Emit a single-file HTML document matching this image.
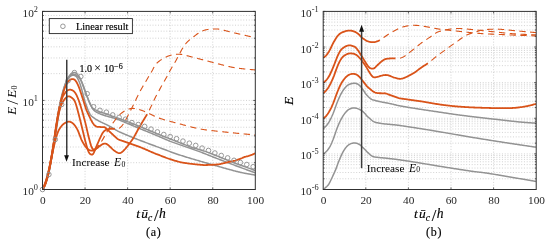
<!DOCTYPE html>
<html><head><meta charset="utf-8"><style>html,body{margin:0;padding:0;background:#fff;}svg{display:block;}</style></head>
<body>
<svg width="550" height="244" viewBox="0 0 550 244">
<defs><clipPath id="clipL"><rect x="42.5" y="11.4" width="212.8" height="178.1"/></clipPath><clipPath id="clipR"><rect x="323.2" y="11.4" width="213.00000000000006" height="178.1"/></clipPath></defs>
<rect width="550" height="244" fill="#fff"/>
<path d="M85.06,11.40V189.50M127.62,11.40V189.50M170.18,11.40V189.50M212.74,11.40V189.50M42.50,162.69H255.30M42.50,147.01H255.30M42.50,135.89H255.30M42.50,127.26H255.30M42.50,120.21H255.30M42.50,114.24H255.30M42.50,109.08H255.30M42.50,104.52H255.30M42.50,100.45H255.30M42.50,73.64H255.30M42.50,57.96H255.30M42.50,46.84H255.30M42.50,38.21H255.30M42.50,31.16H255.30M42.50,25.19H255.30M42.50,20.03H255.30M42.50,15.47H255.30" stroke="#c8c8c8" stroke-width="0.8" stroke-dasharray="1 1.75" fill="none"/>
<path d="M365.80,11.40V189.50M408.40,11.40V189.50M451.00,11.40V189.50M493.60,11.40V189.50M323.20,178.78H536.20M323.20,172.50H536.20M323.20,168.05H536.20M323.20,164.60H536.20M323.20,161.78H536.20M323.20,159.40H536.20M323.20,157.33H536.20M323.20,155.51H536.20M323.20,153.88H536.20M323.20,143.16H536.20M323.20,136.88H536.20M323.20,132.43H536.20M323.20,128.98H536.20M323.20,126.16H536.20M323.20,123.78H536.20M323.20,121.71H536.20M323.20,119.89H536.20M323.20,118.26H536.20M323.20,107.54H536.20M323.20,101.26H536.20M323.20,96.81H536.20M323.20,93.36H536.20M323.20,90.54H536.20M323.20,88.16H536.20M323.20,86.09H536.20M323.20,84.27H536.20M323.20,82.64H536.20M323.20,71.92H536.20M323.20,65.64H536.20M323.20,61.19H536.20M323.20,57.74H536.20M323.20,54.92H536.20M323.20,52.54H536.20M323.20,50.47H536.20M323.20,48.65H536.20M323.20,47.02H536.20M323.20,36.30H536.20M323.20,30.02H536.20M323.20,25.57H536.20M323.20,22.12H536.20M323.20,19.30H536.20M323.20,16.92H536.20M323.20,14.85H536.20M323.20,13.03H536.20" stroke="#c8c8c8" stroke-width="0.8" stroke-dasharray="1 1.75" fill="none"/>
<polyline points="323.20,128.30 323.91,127.92 324.63,127.42 325.34,126.80 326.06,126.05 326.77,125.19 327.48,124.25 328.20,123.21 328.91,122.07 329.63,120.82 330.34,119.47 331.06,118.05 331.77,116.55 332.48,114.95 333.20,113.25 333.91,111.44 334.63,109.51 335.34,107.51 336.05,105.52 336.77,103.60 337.48,101.78 338.20,100.03 338.91,98.35 339.62,96.74 340.34,95.21 341.05,93.80 341.77,92.52 342.48,91.34 343.19,90.26 343.91,89.27 344.62,88.35 345.34,87.50 346.05,86.73 346.77,86.04 347.48,85.45 348.19,84.95 348.91,84.55 349.62,84.22 350.34,83.94 351.05,83.71 351.76,83.54 352.48,83.41 353.19,83.33 353.91,83.29 354.62,83.30 355.33,83.36 356.05,83.49 356.76,83.69 357.48,84.00 358.19,84.42 358.90,84.96 359.62,85.59 360.33,86.31 361.05,87.10 361.76,87.98 362.48,88.96 363.19,90.01 363.90,91.10 364.62,92.19 365.33,93.22 366.05,94.17 366.76,95.01 367.47,95.81 368.19,96.57 368.90,97.28 369.62,97.94 370.33,98.52 371.04,99.01 371.76,99.40 372.47,99.69 373.19,99.91 373.90,100.12 374.61,100.33 375.33,100.53 376.04,100.72 376.76,100.91 377.47,101.09 378.19,101.26 378.90,101.42 379.61,101.58 380.33,101.73 381.04,101.87 381.76,102.01 382.47,102.14 383.18,102.28 383.90,102.41 384.61,102.55 385.33,102.68 386.04,102.82 386.75,102.95 387.47,103.09 388.18,103.23 388.90,103.37 389.61,103.51 390.32,103.66 391.04,103.81 391.75,103.97 392.47,104.13 393.18,104.30 393.90,104.48 394.61,104.66 395.32,104.84 396.04,105.02 396.75,105.20 397.47,105.37 398.18,105.53 398.89,105.69 399.61,105.83 400.32,105.96 401.04,106.08 401.75,106.21 402.46,106.33 403.18,106.46 403.89,106.58 404.61,106.70 405.32,106.82 406.03,106.95 406.75,107.07 407.46,107.19 408.18,107.30 408.89,107.42 409.61,107.54 410.32,107.66 411.03,107.78 411.75,107.89 412.46,108.01 413.18,108.12 413.89,108.24 414.60,108.35 415.32,108.46 416.03,108.58 416.75,108.69 417.46,108.80 418.17,108.91 418.89,109.03 419.60,109.14 420.32,109.25 421.03,109.36 421.74,109.47 422.46,109.58 423.17,109.69 423.89,109.79 424.60,109.90 425.32,110.01 426.03,110.12 426.74,110.23 427.46,110.33 428.17,110.44 428.89,110.55 429.60,110.65 430.31,110.76 431.03,110.87 431.74,110.97 432.46,111.08 433.17,111.19 433.88,111.29 434.60,111.40 435.31,111.50 436.03,111.61 436.74,111.71 437.46,111.82 438.17,111.92 438.88,112.03 439.60,112.14 440.31,112.24 441.03,112.35 441.74,112.46 442.45,112.56 443.17,112.67 443.88,112.78 444.60,112.89 445.31,112.99 446.02,113.10 446.74,113.21 447.45,113.32 448.17,113.42 448.88,113.53 449.59,113.64 450.31,113.74 451.02,113.85 451.74,113.95 452.45,114.06 453.17,114.16 453.88,114.26 454.59,114.37 455.31,114.47 456.02,114.57 456.74,114.67 457.45,114.77 458.16,114.87 458.88,114.96 459.59,115.06 460.31,115.15 461.02,115.25 461.73,115.34 462.45,115.43 463.16,115.52 463.88,115.61 464.59,115.70 465.30,115.79 466.02,115.87 466.73,115.96 467.45,116.05 468.16,116.14 468.88,116.22 469.59,116.31 470.30,116.40 471.02,116.48 471.73,116.57 472.45,116.65 473.16,116.74 473.87,116.82 474.59,116.91 475.30,116.99 476.02,117.07 476.73,117.16 477.44,117.24 478.16,117.33 478.87,117.41 479.59,117.49 480.30,117.57 481.01,117.66 481.73,117.74 482.44,117.82 483.16,117.90 483.87,117.99 484.59,118.07 485.30,118.15 486.01,118.23 486.73,118.31 487.44,118.40 488.16,118.48 488.87,118.56 489.58,118.64 490.30,118.72 491.01,118.80 491.73,118.88 492.44,118.97 493.15,119.05 493.87,119.13 494.58,119.21 495.30,119.29 496.01,119.37 496.72,119.45 497.44,119.54 498.15,119.62 498.87,119.70 499.58,119.78 500.30,119.86 501.01,119.94 501.72,120.02 502.44,120.11 503.15,120.19 503.87,120.27 504.58,120.35 505.29,120.43 506.01,120.51 506.72,120.59 507.44,120.67 508.15,120.75 508.86,120.83 509.58,120.90 510.29,120.98 511.01,121.06 511.72,121.14 512.43,121.22 513.15,121.29 513.86,121.37 514.58,121.45 515.29,121.52 516.01,121.60 516.72,121.68 517.43,121.75 518.15,121.82 518.86,121.89 519.58,121.96 520.29,122.02 521.00,122.09 521.72,122.15 522.43,122.21 523.15,122.27 523.86,122.33 524.57,122.39 525.29,122.45 526.00,122.50 526.72,122.56 527.43,122.61 528.14,122.67 528.86,122.72 529.57,122.77 530.29,122.82 531.00,122.87 531.72,122.92 532.43,122.97 533.14,123.01 533.86,123.06 534.57,123.11 535.29,123.15 536.00,123.20" fill="none" stroke="#939393" stroke-width="1.5" stroke-linejoin="round" clip-path="url(#clipR)"/>
<polyline points="42.50,187.79 43.21,186.85 43.93,185.59 44.64,184.04 45.35,182.17 46.07,180.03 46.78,177.67 47.49,175.06 48.21,172.21 48.92,169.09 49.63,165.72 50.35,162.17 51.06,158.41 51.77,154.42 52.49,150.17 53.20,145.64 53.91,140.81 54.63,135.83 55.34,130.85 56.06,126.04 56.77,121.50 57.48,117.12 58.20,112.91 58.91,108.89 59.62,105.07 60.34,101.55 61.05,98.34 61.76,95.39 62.48,92.70 63.19,90.21 63.90,87.91 64.62,85.79 65.33,83.86 66.04,82.15 66.76,80.66 67.47,79.41 68.18,78.41 68.90,77.58 69.61,76.89 70.32,76.33 71.04,75.88 71.75,75.56 72.46,75.36 73.18,75.27 73.89,75.30 74.60,75.44 75.32,75.76 76.03,76.28 76.74,77.05 77.46,78.10 78.17,79.44 78.88,81.02 79.60,82.82 80.31,84.80 81.02,86.98 81.74,89.44 82.45,92.08 83.17,94.80 83.88,97.51 84.59,100.11 85.31,102.48 86.02,104.57 86.73,106.57 87.45,108.47 88.16,110.26 88.87,111.89 89.59,113.33 90.30,114.57 91.01,115.56 91.73,116.27 92.44,116.82 93.15,117.35 93.87,117.87 94.58,118.37 95.29,118.85 96.01,119.31 96.72,119.76 97.43,120.18 98.15,120.59 98.86,120.98 99.57,121.36 100.29,121.71 101.00,122.06 101.71,122.40 102.43,122.74 103.14,123.08 103.85,123.42 104.57,123.75 105.28,124.09 105.99,124.43 106.71,124.77 107.42,125.12 108.13,125.47 108.85,125.82 109.56,126.19 110.28,126.56 110.99,126.96 111.70,127.37 112.42,127.80 113.13,128.25 113.84,128.70 114.56,129.15 115.27,129.60 115.98,130.04 116.70,130.47 117.41,130.88 118.12,131.26 118.84,131.61 119.55,131.94 120.26,132.25 120.98,132.56 121.69,132.88 122.40,133.19 123.12,133.49 123.83,133.80 124.54,134.10 125.26,134.41 125.97,134.71 126.68,135.01 127.40,135.31 128.11,135.60 128.82,135.90 129.54,136.19 130.25,136.48 130.96,136.77 131.68,137.06 132.39,137.35 133.10,137.63 133.82,137.92 134.53,138.20 135.25,138.49 135.96,138.77 136.67,139.05 137.39,139.33 138.10,139.61 138.81,139.88 139.53,140.16 140.24,140.44 140.95,140.71 141.67,140.98 142.38,141.26 143.09,141.53 143.81,141.80 144.52,142.07 145.23,142.34 145.95,142.61 146.66,142.88 147.37,143.15 148.09,143.41 148.80,143.68 149.51,143.95 150.23,144.21 150.94,144.48 151.65,144.74 152.37,145.01 153.08,145.27 153.79,145.54 154.51,145.80 155.22,146.06 155.93,146.33 156.65,146.59 157.36,146.86 158.07,147.12 158.79,147.39 159.50,147.65 160.21,147.92 160.93,148.19 161.64,148.45 162.36,148.72 163.07,148.99 163.78,149.26 164.50,149.53 165.21,149.80 165.92,150.07 166.64,150.33 167.35,150.60 168.06,150.87 168.78,151.13 169.49,151.40 170.20,151.66 170.92,151.92 171.63,152.18 172.34,152.44 173.06,152.70 173.77,152.96 174.48,153.21 175.20,153.46 175.91,153.71 176.62,153.96 177.34,154.21 178.05,154.45 178.76,154.69 179.48,154.93 180.19,155.16 180.90,155.39 181.62,155.62 182.33,155.84 183.04,156.07 183.76,156.29 184.47,156.51 185.18,156.73 185.90,156.95 186.61,157.17 187.32,157.39 188.04,157.60 188.75,157.82 189.47,158.03 190.18,158.25 190.89,158.46 191.61,158.67 192.32,158.89 193.03,159.10 193.75,159.31 194.46,159.52 195.17,159.73 195.89,159.94 196.60,160.15 197.31,160.36 198.03,160.57 198.74,160.77 199.45,160.98 200.17,161.19 200.88,161.39 201.59,161.60 202.31,161.80 203.02,162.01 203.73,162.21 204.45,162.42 205.16,162.62 205.87,162.83 206.59,163.03 207.30,163.24 208.01,163.44 208.73,163.64 209.44,163.85 210.15,164.05 210.87,164.25 211.58,164.46 212.29,164.66 213.01,164.86 213.72,165.07 214.44,165.27 215.15,165.48 215.86,165.68 216.58,165.88 217.29,166.09 218.00,166.29 218.72,166.49 219.43,166.70 220.14,166.90 220.86,167.10 221.57,167.31 222.28,167.51 223.00,167.71 223.71,167.91 224.42,168.11 225.14,168.31 225.85,168.51 226.56,168.71 227.28,168.91 227.99,169.11 228.70,169.31 229.42,169.50 230.13,169.70 230.84,169.89 231.56,170.09 232.27,170.28 232.98,170.47 233.70,170.66 234.41,170.85 235.12,171.04 235.84,171.23 236.55,171.41 237.26,171.59 237.98,171.77 238.69,171.94 239.40,172.10 240.12,172.26 240.83,172.42 241.55,172.58 242.26,172.73 242.97,172.88 243.69,173.02 244.40,173.16 245.11,173.30 245.83,173.44 246.54,173.58 247.25,173.71 247.97,173.84 248.68,173.96 249.39,174.09 250.11,174.21 250.82,174.34 251.53,174.46 252.25,174.58 252.96,174.69 253.67,174.81 254.39,174.93 255.10,175.04" fill="none" stroke="#939393" stroke-width="1.5" stroke-linejoin="round" clip-path="url(#clipL)"/>
<polyline points="323.20,153.50 323.91,153.24 324.63,152.85 325.34,152.35 326.06,151.74 326.77,151.04 327.48,150.24 328.20,149.33 328.91,148.29 329.63,147.11 330.34,145.78 331.06,144.33 331.77,142.76 332.48,141.08 333.20,139.29 333.91,137.38 334.63,135.34 335.34,133.22 336.05,131.12 336.77,129.12 337.48,127.26 338.20,125.49 338.91,123.81 339.62,122.21 340.34,120.72 341.05,119.32 341.77,118.02 342.48,116.81 343.19,115.68 343.91,114.62 344.62,113.63 345.34,112.71 346.05,111.87 346.77,111.11 347.48,110.45 348.19,109.89 348.91,109.44 349.62,109.06 350.34,108.74 351.05,108.47 351.76,108.25 352.48,108.09 353.19,108.00 353.91,107.97 354.62,108.00 355.33,108.09 356.05,108.22 356.76,108.39 357.48,108.61 358.19,108.87 358.90,109.16 359.62,109.48 360.33,109.84 361.05,110.24 361.76,110.71 362.48,111.24 363.19,111.86 363.90,112.56 364.62,113.32 365.33,114.10 366.05,114.90 366.76,115.68 367.47,116.43 368.19,117.11 368.90,117.74 369.62,118.38 370.33,119.01 371.04,119.63 371.76,120.22 372.47,120.77 373.19,121.27 373.90,121.70 374.61,122.06 375.33,122.32 376.04,122.51 376.76,122.67 377.47,122.82 378.19,122.96 378.90,123.09 379.61,123.22 380.33,123.33 381.04,123.43 381.76,123.53 382.47,123.63 383.18,123.71 383.90,123.80 384.61,123.88 385.33,123.96 386.04,124.03 386.75,124.10 387.47,124.17 388.18,124.24 388.90,124.31 389.61,124.37 390.32,124.44 391.04,124.50 391.75,124.57 392.47,124.64 393.18,124.70 393.90,124.77 394.61,124.84 395.32,124.92 396.04,125.00 396.75,125.08 397.47,125.16 398.18,125.25 398.89,125.34 399.61,125.44 400.32,125.55 401.04,125.65 401.75,125.76 402.46,125.87 403.18,125.97 403.89,126.08 404.61,126.19 405.32,126.29 406.03,126.40 406.75,126.51 407.46,126.62 408.18,126.72 408.89,126.83 409.61,126.94 410.32,127.05 411.03,127.16 411.75,127.27 412.46,127.38 413.18,127.49 413.89,127.60 414.60,127.71 415.32,127.82 416.03,127.93 416.75,128.04 417.46,128.15 418.17,128.27 418.89,128.38 419.60,128.49 420.32,128.60 421.03,128.72 421.74,128.83 422.46,128.95 423.17,129.06 423.89,129.17 424.60,129.29 425.32,129.40 426.03,129.52 426.74,129.63 427.46,129.75 428.17,129.87 428.89,129.98 429.60,130.10 430.31,130.22 431.03,130.33 431.74,130.45 432.46,130.57 433.17,130.69 433.88,130.81 434.60,130.93 435.31,131.05 436.03,131.17 436.74,131.29 437.46,131.41 438.17,131.53 438.88,131.65 439.60,131.77 440.31,131.89 441.03,132.02 441.74,132.14 442.45,132.26 443.17,132.38 443.88,132.51 444.60,132.63 445.31,132.75 446.02,132.88 446.74,133.00 447.45,133.13 448.17,133.25 448.88,133.37 449.59,133.50 450.31,133.62 451.02,133.75 451.74,133.87 452.45,134.00 453.17,134.12 453.88,134.24 454.59,134.37 455.31,134.49 456.02,134.62 456.74,134.74 457.45,134.86 458.16,134.99 458.88,135.11 459.59,135.24 460.31,135.36 461.02,135.48 461.73,135.60 462.45,135.73 463.16,135.85 463.88,135.97 464.59,136.09 465.30,136.21 466.02,136.33 466.73,136.45 467.45,136.57 468.16,136.69 468.88,136.81 469.59,136.93 470.30,137.05 471.02,137.17 471.73,137.29 472.45,137.40 473.16,137.52 473.87,137.64 474.59,137.76 475.30,137.87 476.02,137.99 476.73,138.11 477.44,138.22 478.16,138.34 478.87,138.46 479.59,138.57 480.30,138.69 481.01,138.80 481.73,138.92 482.44,139.04 483.16,139.15 483.87,139.27 484.59,139.38 485.30,139.49 486.01,139.61 486.73,139.72 487.44,139.84 488.16,139.95 488.87,140.07 489.58,140.18 490.30,140.29 491.01,140.40 491.73,140.52 492.44,140.63 493.15,140.74 493.87,140.85 494.58,140.97 495.30,141.08 496.01,141.19 496.72,141.30 497.44,141.41 498.15,141.52 498.87,141.63 499.58,141.75 500.30,141.86 501.01,141.97 501.72,142.08 502.44,142.19 503.15,142.30 503.87,142.41 504.58,142.52 505.29,142.63 506.01,142.73 506.72,142.84 507.44,142.95 508.15,143.06 508.86,143.17 509.58,143.28 510.29,143.39 511.01,143.50 511.72,143.60 512.43,143.71 513.15,143.82 513.86,143.93 514.58,144.04 515.29,144.14 516.01,144.25 516.72,144.36 517.43,144.47 518.15,144.57 518.86,144.68 519.58,144.79 520.29,144.89 521.00,145.00 521.72,145.11 522.43,145.21 523.15,145.32 523.86,145.42 524.57,145.53 525.29,145.63 526.00,145.74 526.72,145.84 527.43,145.95 528.14,146.05 528.86,146.16 529.57,146.26 530.29,146.37 531.00,146.47 531.72,146.58 532.43,146.68 533.14,146.79 533.86,146.89 534.57,146.99 535.29,147.10 536.00,147.20" fill="none" stroke="#939393" stroke-width="1.5" stroke-linejoin="round" clip-path="url(#clipR)"/>
<polyline points="42.50,188.55 43.21,187.90 43.93,186.93 44.64,185.67 45.35,184.15 46.07,182.40 46.78,180.40 47.49,178.13 48.21,175.53 48.92,172.57 49.63,169.25 50.35,165.63 51.06,161.70 51.77,157.50 52.49,153.02 53.20,148.26 53.91,143.14 54.63,137.86 55.34,132.60 56.06,127.59 56.77,122.95 57.48,118.53 58.20,114.32 58.91,110.34 59.62,106.59 60.34,103.10 61.05,99.85 61.76,96.82 62.48,94.00 63.19,91.36 63.90,88.89 64.62,86.59 65.33,84.48 66.04,82.58 66.76,80.92 67.47,79.52 68.18,78.38 68.90,77.38 69.61,76.50 70.32,75.75 71.04,75.15 71.75,74.69 72.46,74.38 73.18,74.24 73.89,74.25 74.60,74.41 75.32,74.66 76.03,75.03 76.74,75.51 77.46,76.10 78.17,76.76 78.88,77.49 79.60,78.31 80.31,79.25 81.02,80.39 81.74,81.83 82.45,83.49 83.17,85.34 83.88,87.33 84.59,89.39 85.31,91.48 86.02,93.54 86.73,95.50 87.45,97.31 88.16,98.99 88.87,100.68 89.59,102.34 90.30,103.92 91.01,105.43 91.73,106.85 92.44,108.13 93.15,109.25 93.87,110.18 94.58,110.88 95.29,111.38 96.01,111.82 96.72,112.24 97.43,112.63 98.15,112.99 98.86,113.33 99.57,113.65 100.29,113.95 101.00,114.23 101.71,114.50 102.43,114.76 103.14,115.00 103.85,115.24 104.57,115.47 105.28,115.70 105.99,115.92 106.71,116.13 107.42,116.33 108.13,116.54 108.85,116.74 109.56,116.93 110.28,117.13 110.99,117.33 111.70,117.54 112.42,117.74 113.13,117.95 113.84,118.15 114.56,118.37 115.27,118.59 115.98,118.82 116.70,119.06 117.41,119.31 118.12,119.57 118.84,119.85 119.55,120.14 120.26,120.43 120.98,120.72 121.69,121.01 122.40,121.31 123.12,121.60 123.83,121.90 124.54,122.19 125.26,122.49 125.97,122.79 126.68,123.09 127.40,123.38 128.11,123.68 128.82,123.98 129.54,124.28 130.25,124.58 130.96,124.89 131.68,125.19 132.39,125.49 133.10,125.79 133.82,126.10 134.53,126.40 135.25,126.71 135.96,127.02 136.67,127.32 137.39,127.63 138.10,127.94 138.81,128.23 139.53,128.51 140.24,128.79 140.95,129.08 141.67,129.36 142.38,129.65 143.09,129.93 143.81,130.22 144.52,130.51 145.23,130.80 145.95,131.09 146.66,131.38 147.37,131.67 148.09,131.96 148.80,132.25 149.51,132.54 150.23,132.84 150.94,133.13 151.65,133.43 152.37,133.72 153.08,134.02 153.79,134.32 154.51,134.62 155.22,134.92 155.93,135.22 156.65,135.52 157.36,135.82 158.07,136.12 158.79,136.43 159.50,136.73 160.21,137.04 160.93,137.35 161.64,137.65 162.36,137.96 163.07,138.27 163.78,138.58 164.50,138.88 165.21,139.19 165.92,139.50 166.64,139.81 167.35,140.12 168.06,140.43 168.78,140.75 169.49,141.06 170.20,141.37 170.92,141.62 171.63,141.87 172.34,142.13 173.06,142.38 173.77,142.64 174.48,142.89 175.20,143.14 175.91,143.39 176.62,143.65 177.34,143.90 178.05,144.15 178.76,144.40 179.48,144.65 180.19,144.90 180.90,145.15 181.62,145.40 182.33,145.65 183.04,145.90 183.76,146.15 184.47,146.39 185.18,146.64 185.90,146.88 186.61,147.12 187.32,147.37 188.04,147.61 188.75,147.85 189.47,148.08 190.18,148.32 190.89,148.56 191.61,148.80 192.32,149.06 193.03,149.32 193.75,149.58 194.46,149.84 195.17,150.10 195.89,150.36 196.60,150.62 197.31,150.88 198.03,151.13 198.74,151.39 199.45,151.65 200.17,151.90 200.88,152.16 201.59,152.41 202.31,152.68 203.02,152.96 203.73,153.25 204.45,153.54 205.16,153.82 205.87,154.11 206.59,154.39 207.30,154.68 208.01,154.96 208.73,155.25 209.44,155.53 210.15,155.81 210.87,156.09 211.58,156.38 212.29,156.66 213.01,156.94 213.72,157.22 214.44,157.50 215.15,157.78 215.86,158.05 216.58,158.33 217.29,158.61 218.00,158.89 218.72,159.16 219.43,159.44 220.14,159.71 220.86,159.99 221.57,160.27 222.28,160.54 223.00,160.81 223.71,161.09 224.42,161.36 225.14,161.64 225.85,161.91 226.56,162.18 227.28,162.45 227.99,162.73 228.70,163.00 229.42,163.27 230.13,163.54 230.84,163.81 231.56,164.08 232.27,164.35 232.98,164.62 233.70,164.89 234.41,165.16 235.12,165.43 235.84,165.70 236.55,165.96 237.26,166.23 237.98,166.50 238.69,166.76 239.40,167.03 240.12,167.30 240.83,167.56 241.55,167.83 242.26,168.09 242.97,168.36 243.69,168.62 244.40,168.89 245.11,169.15 245.83,169.41 246.54,169.68 247.25,169.94 247.97,170.20 248.68,170.46 249.39,170.72 250.11,170.98 250.82,171.24 251.53,171.50 252.25,171.76 252.96,172.02 253.67,172.28 254.39,172.54 255.10,172.80" fill="none" stroke="#939393" stroke-width="1.5" stroke-linejoin="round" clip-path="url(#clipL)"/>
<polyline points="323.20,189.50 323.91,188.99 324.63,188.41 325.34,187.79 326.06,187.14 326.77,186.50 327.48,185.82 328.20,185.02 328.91,183.99 329.63,182.70 330.34,181.27 331.06,179.77 331.77,178.23 332.48,176.69 333.20,175.16 333.91,173.62 334.63,172.04 335.34,170.41 336.05,168.62 336.77,166.69 337.48,164.70 338.20,162.78 338.91,160.98 339.62,159.26 340.34,157.60 341.05,155.99 341.77,154.43 342.48,152.98 343.19,151.66 343.91,150.44 344.62,149.31 345.34,148.29 346.05,147.37 346.77,146.55 347.48,145.84 348.19,145.24 348.91,144.73 349.62,144.30 350.34,143.92 351.05,143.61 351.76,143.36 352.48,143.18 353.19,143.06 353.91,143.00 354.62,143.01 355.33,143.06 356.05,143.16 356.76,143.33 357.48,143.57 358.19,143.89 358.90,144.27 359.62,144.68 360.33,145.17 361.05,145.76 361.76,146.45 362.48,147.16 363.19,147.87 363.90,148.59 364.62,149.32 365.33,150.04 366.05,150.75 366.76,151.46 367.47,152.16 368.19,152.87 368.90,153.56 369.62,154.23 370.33,154.86 371.04,155.42 371.76,155.89 372.47,156.27 373.19,156.56 373.90,156.79 374.61,156.96 375.33,157.09 376.04,157.19 376.76,157.27 377.47,157.34 378.19,157.42 378.90,157.50 379.61,157.57 380.33,157.64 381.04,157.71 381.76,157.77 382.47,157.84 383.18,157.90 383.90,157.97 384.61,158.03 385.33,158.10 386.04,158.16 386.75,158.24 387.47,158.31 388.18,158.39 388.90,158.47 389.61,158.55 390.32,158.64 391.04,158.73 391.75,158.82 392.47,158.91 393.18,159.00 393.90,159.09 394.61,159.17 395.32,159.26 396.04,159.36 396.75,159.45 397.47,159.54 398.18,159.64 398.89,159.74 399.61,159.84 400.32,159.95 401.04,160.05 401.75,160.16 402.46,160.27 403.18,160.37 403.89,160.48 404.61,160.59 405.32,160.70 406.03,160.80 406.75,160.91 407.46,161.02 408.18,161.13 408.89,161.24 409.61,161.35 410.32,161.46 411.03,161.57 411.75,161.68 412.46,161.80 413.18,161.91 413.89,162.02 414.60,162.13 415.32,162.25 416.03,162.36 416.75,162.47 417.46,162.59 418.17,162.70 418.89,162.82 419.60,162.94 420.32,163.05 421.03,163.17 421.74,163.29 422.46,163.40 423.17,163.52 423.89,163.64 424.60,163.76 425.32,163.88 426.03,164.00 426.74,164.12 427.46,164.24 428.17,164.36 428.89,164.48 429.60,164.60 430.31,164.72 431.03,164.84 431.74,164.96 432.46,165.08 433.17,165.20 433.88,165.32 434.60,165.44 435.31,165.56 436.03,165.68 436.74,165.79 437.46,165.91 438.17,166.03 438.88,166.14 439.60,166.26 440.31,166.38 441.03,166.49 441.74,166.61 442.45,166.72 443.17,166.84 443.88,166.95 444.60,167.07 445.31,167.18 446.02,167.29 446.74,167.41 447.45,167.52 448.17,167.63 448.88,167.75 449.59,167.86 450.31,167.97 451.02,168.08 451.74,168.20 452.45,168.31 453.17,168.42 453.88,168.53 454.59,168.64 455.31,168.75 456.02,168.86 456.74,168.98 457.45,169.09 458.16,169.20 458.88,169.31 459.59,169.42 460.31,169.53 461.02,169.64 461.73,169.74 462.45,169.85 463.16,169.96 463.88,170.07 464.59,170.18 465.30,170.29 466.02,170.40 466.73,170.51 467.45,170.61 468.16,170.72 468.88,170.83 469.59,170.94 470.30,171.05 471.02,171.15 471.73,171.25 472.45,171.35 473.16,171.44 473.87,171.53 474.59,171.62 475.30,171.71 476.02,171.79 476.73,171.88 477.44,171.96 478.16,172.04 478.87,172.13 479.59,172.21 480.30,172.29 481.01,172.37 481.73,172.46 482.44,172.54 483.16,172.63 483.87,172.72 484.59,172.81 485.30,172.90 486.01,173.00 486.73,173.09 487.44,173.20 488.16,173.30 488.87,173.42 489.58,173.53 490.30,173.65 491.01,173.77 491.73,173.89 492.44,174.01 493.15,174.13 493.87,174.26 494.58,174.38 495.30,174.50 496.01,174.62 496.72,174.74 497.44,174.86 498.15,174.98 498.87,175.11 499.58,175.23 500.30,175.35 501.01,175.47 501.72,175.59 502.44,175.71 503.15,175.84 503.87,175.96 504.58,176.08 505.29,176.20 506.01,176.32 506.72,176.44 507.44,176.57 508.15,176.69 508.86,176.81 509.58,176.93 510.29,177.05 511.01,177.17 511.72,177.29 512.43,177.41 513.15,177.53 513.86,177.65 514.58,177.77 515.29,177.90 516.01,178.02 516.72,178.14 517.43,178.26 518.15,178.38 518.86,178.50 519.58,178.62 520.29,178.74 521.00,178.86 521.72,178.98 522.43,179.11 523.15,179.23 523.86,179.35 524.57,179.47 525.29,179.59 526.00,179.71 526.72,179.83 527.43,179.95 528.14,180.07 528.86,180.19 529.57,180.31 530.29,180.43 531.00,180.56 531.72,180.68 532.43,180.80 533.14,180.92 533.86,181.04 534.57,181.16 535.29,181.28 536.00,181.40" fill="none" stroke="#939393" stroke-width="1.5" stroke-linejoin="round" clip-path="url(#clipR)"/>
<polyline points="42.50,189.50 43.21,188.22 43.93,186.78 44.64,185.22 45.35,183.60 46.07,181.99 46.78,180.30 47.49,178.29 48.21,175.74 48.92,172.50 49.63,168.93 50.35,165.18 51.06,161.33 51.77,157.48 52.49,153.65 53.20,149.79 53.91,145.85 54.63,141.77 55.34,137.31 56.06,132.47 56.77,127.51 57.48,122.69 58.20,118.21 58.91,113.91 59.62,109.75 60.34,105.71 61.05,101.82 61.76,98.21 62.48,94.90 63.19,91.85 63.90,89.03 64.62,86.47 65.33,84.17 66.04,82.13 66.76,80.36 67.47,78.84 68.18,77.56 68.90,76.39 69.61,75.38 70.32,74.51 71.04,73.80 71.75,73.26 72.46,72.87 73.18,72.65 73.89,72.58 74.60,72.62 75.32,72.79 76.03,73.12 76.74,73.65 77.46,74.38 78.17,75.22 78.88,76.18 79.60,77.33 80.31,78.72 81.02,80.41 81.74,82.31 82.45,84.22 83.17,86.15 83.88,88.08 84.59,90.01 85.31,91.92 86.02,93.81 86.73,95.70 87.45,97.59 88.16,99.45 88.87,101.24 89.59,102.94 90.30,104.49 91.01,105.79 91.73,106.87 92.44,107.74 93.15,108.45 93.87,109.01 94.58,109.48 95.29,109.86 96.01,110.19 96.72,110.50 97.43,110.83 98.15,111.15 98.86,111.46 99.57,111.77 100.29,112.04 101.00,112.26 101.71,112.48 102.43,112.70 103.14,112.91 103.85,113.13 104.57,113.35 105.28,113.58 105.99,113.81 106.71,114.05 107.42,114.30 108.13,114.56 108.85,114.82 109.56,115.11 110.28,115.39 110.99,115.66 111.70,115.94 112.42,116.22 113.13,116.46 113.84,116.69 114.56,116.91 115.27,117.14 115.98,117.37 116.70,117.61 117.41,117.85 118.12,118.10 118.84,118.36 119.55,118.62 120.26,118.88 120.98,119.15 121.69,119.42 122.40,119.68 123.12,119.95 123.83,120.22 124.54,120.49 125.26,120.76 125.97,121.03 126.68,121.30 127.40,121.58 128.11,121.85 128.82,122.13 129.54,122.40 130.25,122.68 130.96,122.96 131.68,123.24 132.39,123.52 133.10,123.80 133.82,124.08 134.53,124.36 135.25,124.65 135.96,124.93 136.67,125.22 137.39,125.51 138.10,125.80 138.81,126.09 139.53,126.38 140.24,126.67 140.95,126.97 141.67,127.26 142.38,127.56 143.09,127.85 143.81,128.15 144.52,128.45 145.23,128.75 145.95,129.05 146.66,129.35 147.37,129.65 148.09,129.95 148.80,130.25 149.51,130.55 150.23,130.85 150.94,131.15 151.65,131.45 152.37,131.75 153.08,132.05 153.79,132.35 154.51,132.64 155.22,132.94 155.93,133.23 156.65,133.53 157.36,133.82 158.07,134.11 158.79,134.40 159.50,134.69 160.21,134.98 160.93,135.27 161.64,135.56 162.36,135.84 163.07,136.13 163.78,136.42 164.50,136.70 165.21,136.99 165.92,137.27 166.64,137.55 167.35,137.84 168.06,138.12 168.78,138.40 169.49,138.68 170.20,138.96 170.92,139.25 171.63,139.53 172.34,139.81 173.06,140.10 173.77,140.38 174.48,140.66 175.20,140.94 175.91,141.22 176.62,141.50 177.34,141.78 178.05,142.06 178.76,142.34 179.48,142.62 180.19,142.90 180.90,143.18 181.62,143.46 182.33,143.73 183.04,144.01 183.76,144.29 184.47,144.56 185.18,144.84 185.90,145.11 186.61,145.39 187.32,145.66 188.04,145.94 188.75,146.21 189.47,146.48 190.18,146.75 190.89,147.00 191.61,147.25 192.32,147.49 193.03,147.72 193.75,147.95 194.46,148.17 195.17,148.39 195.89,148.61 196.60,148.82 197.31,149.03 198.03,149.24 198.74,149.45 199.45,149.66 200.17,149.87 200.88,150.08 201.59,150.30 202.31,150.51 203.02,150.72 203.73,150.93 204.45,151.15 205.16,151.37 205.87,151.60 206.59,151.85 207.30,152.10 208.01,152.36 208.73,152.63 209.44,152.91 210.15,153.20 210.87,153.49 211.58,153.77 212.29,154.06 213.01,154.35 213.72,154.64 214.44,154.92 215.15,155.21 215.86,155.50 216.58,155.79 217.29,156.08 218.00,156.37 218.72,156.65 219.43,156.94 220.14,157.23 220.86,157.52 221.57,157.81 222.28,158.10 223.00,158.39 223.71,158.67 224.42,158.96 225.14,159.25 225.85,159.54 226.56,159.83 227.28,160.11 227.99,160.40 228.70,160.69 229.42,160.97 230.13,161.26 230.84,161.55 231.56,161.83 232.27,162.12 232.98,162.41 233.70,162.69 234.41,162.97 235.12,163.22 235.84,163.48 236.55,163.74 237.26,164.00 237.98,164.26 238.69,164.52 239.40,164.78 240.12,165.04 240.83,165.29 241.55,165.55 242.26,165.81 242.97,166.07 243.69,166.33 244.40,166.59 245.11,166.85 245.83,167.11 246.54,167.36 247.25,167.62 247.97,167.88 248.68,168.14 249.39,168.40 250.11,168.66 250.82,168.91 251.53,169.17 252.25,169.43 252.96,169.69 253.67,169.95 254.39,170.20 255.10,170.46" fill="none" stroke="#939393" stroke-width="1.5" stroke-linejoin="round" clip-path="url(#clipL)"/>
<polyline points="323.20,118.20 323.91,117.86 324.63,117.39 325.34,116.78 326.06,116.05 326.77,115.20 327.48,114.26 328.20,113.22 328.91,112.07 329.63,110.82 330.34,109.47 331.06,108.05 331.77,106.54 332.48,104.95 333.20,103.25 333.91,101.44 334.63,99.51 335.34,97.51 336.05,95.52 336.77,93.60 337.48,91.78 338.20,90.03 338.91,88.34 339.62,86.74 340.34,85.22 341.05,83.85 341.77,82.59 342.48,81.45 343.19,80.40 343.91,79.44 344.62,78.55 345.34,77.73 346.05,76.99 346.77,76.33 347.48,75.75 348.19,75.25 348.91,74.85 349.62,74.52 350.34,74.25 351.05,74.05 351.76,73.91 352.48,73.85 353.19,73.85 353.91,73.91 354.62,74.01 355.33,74.16 356.05,74.42 356.76,74.78 357.48,75.24 358.19,75.75 358.90,76.35 359.62,77.06 360.33,77.90 361.05,78.80 361.76,79.70 362.48,80.59 363.19,81.49 363.90,82.40 364.62,83.33 365.33,84.26 366.05,85.17 366.76,86.04 367.47,86.79 368.19,87.44 368.90,88.03 369.62,88.60 370.33,89.18 371.04,89.79 371.76,90.38 372.47,90.93 373.19,91.44 373.90,91.89 374.61,92.27 375.33,92.57 376.04,92.81 376.76,92.98 377.47,93.10 378.19,93.18 378.90,93.21 379.61,93.23 380.33,93.25 381.04,93.26 381.76,93.28 382.47,93.30 383.18,93.30 383.90,93.28 384.61,93.27 385.33,93.34 386.04,93.51 386.75,93.76 387.47,94.02 388.18,94.28 388.90,94.55 389.61,94.82 390.32,95.09 391.04,95.35 391.75,95.62 392.47,95.88 393.18,96.15 393.90,96.42 394.61,96.69 395.32,96.95 396.04,97.21 396.75,97.47 397.47,97.73 398.18,97.94 398.89,98.13 399.61,98.29 400.32,98.42 401.04,98.54 401.75,98.65 402.46,98.74 403.18,98.83 403.89,98.93 404.61,99.03 405.32,99.13 406.03,99.23 406.75,99.34 407.46,99.44 408.18,99.54 408.89,99.64 409.61,99.74 410.32,99.85 411.03,99.95 411.75,100.05 412.46,100.15 413.18,100.25 413.89,100.34 414.60,100.44 415.32,100.54 416.03,100.64 416.75,100.74 417.46,100.84 418.17,100.94 418.89,101.04 419.60,101.14 420.32,101.25 421.03,101.35 421.74,101.46 422.46,101.57 423.17,101.68 423.89,101.80 424.60,101.92 425.32,102.04 426.03,102.16 426.74,102.28 427.46,102.41 428.17,102.53 428.89,102.66 429.60,102.79 430.31,102.91 431.03,103.04 431.74,103.17 432.46,103.29 433.17,103.41 433.88,103.54 434.60,103.66 435.31,103.78 436.03,103.89 436.74,104.01 437.46,104.12 438.17,104.23 438.88,104.33 439.60,104.44 440.31,104.54 441.03,104.64 441.74,104.74 442.45,104.83 443.17,104.93 443.88,105.02 444.60,105.12 445.31,105.21 446.02,105.30 446.74,105.38 447.45,105.47 448.17,105.55 448.88,105.63 449.59,105.71 450.31,105.79 451.02,105.87 451.74,105.94 452.45,106.02 453.17,106.09 453.88,106.16 454.59,106.23 455.31,106.29 456.02,106.36 456.74,106.42 457.45,106.48 458.16,106.54 458.88,106.60 459.59,106.66 460.31,106.71 461.02,106.76 461.73,106.81 462.45,106.86 463.16,106.91 463.88,106.96 464.59,107.00 465.30,107.05 466.02,107.09 466.73,107.13 467.45,107.17 468.16,107.21 468.88,107.24 469.59,107.28 470.30,107.32 471.02,107.35 471.73,107.38 472.45,107.42 473.16,107.45 473.87,107.48 474.59,107.51 475.30,107.54 476.02,107.56 476.73,107.59 477.44,107.62 478.16,107.64 478.87,107.67 479.59,107.69 480.30,107.72 481.01,107.74 481.73,107.76 482.44,107.78 483.16,107.81 483.87,107.83 484.59,107.85 485.30,107.87 486.01,107.89 486.73,107.91 487.44,107.93 488.16,107.95 488.87,107.97 489.58,107.99 490.30,108.01 491.01,108.03 491.73,108.04 492.44,108.06 493.15,108.08 493.87,108.09 494.58,108.10 495.30,108.11 496.01,108.12 496.72,108.13 497.44,108.14 498.15,108.15 498.87,108.16 499.58,108.16 500.30,108.16 501.01,108.17 501.72,108.17 502.44,108.17 503.15,108.17 503.87,108.17 504.58,108.16 505.29,108.16 506.01,108.15 506.72,108.15 507.44,108.14 508.15,108.13 508.86,108.12 509.58,108.11 510.29,108.09 511.01,108.07 511.72,108.05 512.43,108.01 513.15,107.97 513.86,107.92 514.58,107.87 515.29,107.81 516.01,107.74 516.72,107.67 517.43,107.59 518.15,107.51 518.86,107.42 519.58,107.33 520.29,107.23 521.00,107.13 521.72,107.02 522.43,106.92 523.15,106.80 523.86,106.69 524.57,106.57 525.29,106.45 526.00,106.32 526.72,106.19 527.43,106.05 528.14,105.90 528.86,105.74 529.57,105.57 530.29,105.40 531.00,105.23 531.72,105.04 532.43,104.85 533.14,104.65 533.86,104.45 534.57,104.24 535.29,104.02 536.00,103.80" fill="none" stroke="#d95319" stroke-width="1.8" stroke-linejoin="round" clip-path="url(#clipR)"/>
<polyline points="42.50,189.35 43.21,188.49 43.93,187.31 44.64,185.81 45.35,183.97 46.07,181.85 46.78,179.49 47.49,176.89 48.21,174.03 48.92,170.90 49.63,167.52 50.35,163.97 51.06,160.21 51.77,156.22 52.49,151.98 53.20,147.45 53.91,142.62 54.63,137.63 55.34,132.66 56.06,127.85 56.77,123.31 57.48,118.92 58.20,114.71 58.91,110.69 59.62,106.90 60.34,103.52 61.05,100.44 61.76,97.63 62.48,95.07 63.19,92.71 63.90,90.54 64.62,88.54 65.33,86.74 66.04,85.13 66.76,83.72 67.47,82.52 68.18,81.54 68.90,80.74 69.61,80.09 70.32,79.61 71.04,79.30 71.75,79.15 72.46,79.13 73.18,79.17 73.89,79.38 74.60,79.79 75.32,80.43 76.03,81.34 76.74,82.51 77.46,83.82 78.17,85.33 78.88,87.07 79.60,89.06 80.31,91.19 81.02,93.33 81.74,95.50 82.45,97.69 83.17,99.89 83.88,102.15 84.59,104.41 85.31,106.66 86.02,108.85 86.73,110.75 87.45,112.40 88.16,113.90 88.87,115.33 89.59,116.81 90.30,118.33 91.01,119.80 91.73,121.18 92.44,122.45 93.15,123.58 93.87,124.53 94.58,125.28 95.29,125.87 96.01,126.31 96.72,126.61 97.43,126.79 98.15,126.88 98.86,126.92 99.57,126.96 100.29,127.00 101.00,127.04 101.71,127.10 102.43,127.10 103.14,127.04 103.85,127.03 104.57,127.19 105.28,127.63 105.99,128.25 106.71,128.89 107.42,129.55 108.13,130.22 108.85,130.89 109.56,131.56 110.28,132.23 110.99,132.89 111.70,133.56 112.42,134.23 113.13,134.90 113.84,135.57 114.56,136.23 115.27,136.89 115.98,137.54 116.70,138.17 117.41,138.71 118.12,139.18 118.84,139.57 119.55,139.91 120.26,140.20 120.98,140.46 121.69,140.71 122.40,140.94 123.12,141.17 123.83,141.42 124.54,141.68 125.26,141.94 125.97,142.19 126.68,142.45 127.40,142.70 128.11,142.96 128.82,143.21 129.54,143.46 130.25,143.71 130.96,143.96 131.68,144.21 132.39,144.46 133.10,144.71 133.82,144.96 134.53,145.21 135.25,145.46 135.96,145.71 136.67,145.96 137.39,146.21 138.10,146.46 138.81,146.71 139.53,146.96 140.24,147.22 140.95,147.49 141.67,147.77 142.38,148.05 143.09,148.35 143.81,148.64 144.52,148.94 145.23,149.25 145.95,149.56 146.66,149.87 147.37,150.18 148.09,150.50 148.80,150.82 149.51,151.13 150.23,151.45 150.94,151.76 151.65,152.08 152.37,152.39 153.08,152.69 153.79,152.99 154.51,153.29 155.22,153.58 155.93,153.87 156.65,154.14 157.36,154.41 158.07,154.68 158.79,154.94 159.50,155.19 160.21,155.49 160.93,155.78 161.64,156.07 162.36,156.36 163.07,156.64 163.78,156.92 164.50,157.19 165.21,157.46 165.92,157.73 166.64,157.99 167.35,158.24 168.06,158.49 168.78,158.74 169.49,158.98 170.20,159.22 170.92,159.46 171.63,159.69 172.34,159.91 173.06,160.13 173.77,160.35 174.48,160.56 175.20,160.77 175.91,160.98 176.62,161.18 177.34,161.37 178.05,161.56 178.76,161.75 179.48,161.94 180.19,162.11 180.90,162.28 181.62,162.41 182.33,162.54 183.04,162.66 183.76,162.78 184.47,162.89 185.18,163.01 185.90,163.11 186.61,163.22 187.32,163.32 188.04,163.42 188.75,163.52 189.47,163.61 190.18,163.71 190.89,163.79 191.61,163.88 192.32,163.96 193.03,164.05 193.75,164.13 194.46,164.20 195.17,164.28 195.89,164.35 196.60,164.43 197.31,164.50 198.03,164.56 198.74,164.63 199.45,164.70 200.17,164.76 200.88,164.82 201.59,164.89 202.31,164.95 203.02,165.01 203.73,165.07 204.45,165.10 205.16,165.07 205.87,165.05 206.59,165.02 207.30,164.99 208.01,164.97 208.73,164.94 209.44,164.91 210.15,164.88 210.87,164.85 211.58,164.81 212.29,164.77 213.01,164.73 213.72,164.69 214.44,164.64 215.15,164.59 215.86,164.54 216.58,164.48 217.29,164.42 218.00,164.36 218.72,164.30 219.43,164.19 220.14,164.04 220.86,163.88 221.57,163.72 222.28,163.56 223.00,163.39 223.71,163.22 224.42,163.05 225.14,162.88 225.85,162.70 226.56,162.52 227.28,162.33 227.99,162.15 228.70,161.96 229.42,161.76 230.13,161.62 230.84,161.52 231.56,161.41 232.27,161.28 232.98,161.13 233.70,160.96 234.41,160.78 235.12,160.59 235.84,160.38 236.55,160.15 237.26,159.92 237.98,159.67 238.69,159.41 239.40,159.14 240.12,158.85 240.83,158.56 241.55,158.26 242.26,157.96 242.97,157.64 243.69,157.32 244.40,156.99 245.11,156.79 245.83,156.65 246.54,156.49 247.25,156.32 247.97,156.13 248.68,155.92 249.39,155.69 250.11,155.45 250.82,155.19 251.53,154.91 252.25,154.62 252.96,154.31 253.67,153.99 254.39,153.65 255.10,153.29" fill="none" stroke="#d95319" stroke-width="1.8" stroke-linejoin="round" clip-path="url(#clipL)"/>
<polyline points="323.20,93.00 323.92,92.55 324.63,91.99 325.35,91.31 326.07,90.54 326.79,89.67 327.50,88.71 328.22,87.66 328.94,86.51 329.65,85.27 330.37,83.92 331.09,82.48 331.81,80.95 332.52,79.34 333.24,77.64 333.96,75.83 334.67,73.89 335.39,71.88 336.11,69.87 336.83,67.95 337.54,66.15 338.26,64.46 338.98,62.88 339.69,61.43 340.41,60.14 341.13,59.00 341.85,58.02 342.56,57.17 343.28,56.45 344.00,55.85 344.71,55.36 345.43,54.93 346.15,54.54 346.87,54.20 347.58,53.92 348.30,53.71 349.02,53.56 349.73,53.47 350.45,53.43 351.17,53.44 351.88,53.49 352.60,53.58 353.32,53.72 354.04,53.90 354.75,54.15 355.47,54.47 356.19,54.86 356.90,55.35 357.62,55.92 358.34,56.57 359.06,57.28 359.77,58.06 360.49,58.90 361.21,59.79 361.92,60.73 362.64,61.69 363.36,62.68 364.08,63.70 364.79,64.74 365.51,65.81 366.23,66.91 366.94,68.10 367.66,69.36 368.38,70.62 369.10,71.85 369.81,72.99 370.53,74.10 371.25,75.12 371.96,76.00 372.68,76.70 373.40,77.15 374.12,77.31 374.83,77.30 375.55,77.24 376.27,77.13 376.98,76.98 377.70,76.81 378.42,76.62 379.14,76.42 379.85,76.20 380.57,75.98 381.29,75.75 382.00,75.54 382.72,75.36 383.44,75.21 384.16,75.10 384.87,75.03 385.59,75.00 386.31,75.02 387.02,75.10 387.74,75.24 388.46,75.43 389.18,75.66 389.89,75.91 390.61,76.18 391.33,76.47 392.04,76.75 392.76,77.03 393.48,77.29 394.20,77.54 394.91,77.76 395.63,77.97 396.35,78.17 397.06,78.35 397.78,78.52 398.50,78.66 399.22,78.77 399.93,78.82 400.65,78.80 401.37,78.71 402.08,78.57 402.80,78.37 403.52,78.12 404.23,77.85 404.95,77.56 405.67,77.26 406.39,76.94 407.10,76.61 407.82,76.25 408.54,75.89 409.25,75.51 409.97,75.13 410.69,74.75 411.41,74.36 412.12,73.96 412.84,73.55 413.56,73.13 414.27,72.68 414.99,72.21 415.71,71.71 416.43,71.19 417.14,70.65 417.86,70.11 418.58,69.57 419.29,69.04 420.01,68.53 420.73,68.04 421.45,67.55 422.16,67.06 422.88,66.58 423.60,66.10 424.31,65.62 425.03,65.15 425.75,64.68 426.47,64.21 427.18,63.75 427.90,63.30" fill="none" stroke="#d95319" stroke-width="1.8" stroke-linejoin="round" clip-path="url(#clipR)"/>
<polyline points="42.50,188.59 43.22,187.46 43.93,186.06 44.65,184.38 45.37,182.43 46.08,180.26 46.80,177.87 47.52,175.24 48.23,172.38 48.95,169.26 49.66,165.89 50.38,162.29 51.10,158.47 51.81,154.44 52.53,150.19 53.25,145.68 53.96,140.82 54.68,135.79 55.40,130.77 56.11,125.96 56.83,121.47 57.55,117.23 58.26,113.28 58.98,109.67 59.69,106.43 60.41,103.60 61.13,101.13 61.84,99.01 62.56,97.22 63.28,95.72 63.99,94.50 64.71,93.42 65.43,92.44 66.14,91.59 66.86,90.90 67.58,90.36 68.29,90.00 69.01,89.78 69.73,89.67 70.44,89.68 71.16,89.81 71.87,90.05 72.59,90.39 73.31,90.85 74.02,91.47 74.74,92.26 75.46,93.25 76.17,94.46 76.89,95.89 77.61,97.51 78.32,99.30 79.04,101.25 79.76,103.35 80.47,105.57 81.19,107.91 81.90,110.33 82.62,112.80 83.34,115.35 84.05,117.95 84.77,120.62 85.49,123.37 86.20,126.35 86.92,129.49 87.64,132.64 88.35,135.71 89.07,138.58 89.79,141.33 90.50,143.89 91.22,146.10 91.94,147.84 92.65,148.97 93.37,149.36 94.08,149.35 94.80,149.19 95.52,148.91 96.23,148.54 96.95,148.11 97.67,147.65 98.38,147.15 99.10,146.60 99.82,146.04 100.53,145.48 101.25,144.96 101.97,144.50 102.68,144.13 103.40,143.85 104.11,143.67 104.83,143.60 105.55,143.65 106.26,143.84 106.98,144.18 107.70,144.67 108.41,145.24 109.13,145.87 109.85,146.55 110.56,147.26 111.28,147.97 112.00,148.67 112.71,149.33 113.43,149.93 114.14,150.48 114.86,151.01 115.58,151.51 116.29,151.97 117.01,152.39 117.73,152.75 118.44,153.03 119.16,153.14 119.88,153.08 120.59,152.87 121.31,152.51 122.03,152.01 122.74,151.39 123.46,150.72 124.18,150.00 124.89,149.25 125.61,148.45 126.32,147.61 127.04,146.73 127.76,145.81 128.47,144.86 129.19,143.92 129.91,142.96 130.62,141.99 131.34,141.00 132.06,139.97 132.77,138.91 133.49,137.79 134.21,136.61 134.92,135.36 135.64,134.06 136.35,132.72 137.07,131.36 137.79,130.01 138.50,128.69 139.22,127.42 139.94,126.19 140.65,124.97 141.37,123.75 142.09,122.54 142.80,121.34 143.52,120.15 144.24,118.96 144.95,117.79 145.67,116.63 146.39,115.48 147.10,114.34" fill="none" stroke="#d95319" stroke-width="1.8" stroke-linejoin="round" clip-path="url(#clipL)"/>
<polyline points="323.20,82.50 323.92,82.15 324.65,81.66 325.37,81.05 326.09,80.31 326.81,79.47 327.54,78.54 328.26,77.50 328.98,76.32 329.71,74.99 330.43,73.51 331.15,71.95 331.88,70.33 332.60,68.66 333.32,66.93 334.05,65.14 334.77,63.27 335.49,61.37 336.21,59.48 336.94,57.65 337.66,55.93 338.38,54.32 339.11,52.86 339.83,51.58 340.55,50.50 341.27,49.60 342.00,48.84 342.72,48.20 343.44,47.66 344.17,47.19 344.89,46.78 345.61,46.40 346.34,46.05 347.06,45.76 347.78,45.54 348.50,45.40 349.23,45.35 349.95,45.38 350.67,45.48 351.40,45.64 352.12,45.83 352.84,46.04 353.57,46.27 354.29,46.57 355.01,46.98 355.74,47.54 356.46,48.30 357.18,49.24 357.90,50.25 358.63,51.31 359.35,52.41 360.07,53.55 360.80,54.70 361.52,55.87 362.24,57.05 362.96,58.25 363.69,59.45 364.41,60.65 365.13,61.83 365.86,62.98 366.58,64.07 367.30,65.11 368.03,66.09 368.75,67.00 369.47,67.69 370.19,68.16 370.92,68.45 371.64,68.63 372.36,68.72 373.09,68.69 373.81,68.46 374.53,67.97 375.26,67.31 375.98,66.62 376.70,65.91 377.43,65.20 378.15,64.50 378.87,63.84 379.59,63.18 380.32,62.52 381.04,61.88 381.76,61.26 382.49,60.68 383.21,60.16 383.93,59.73 384.65,59.39 385.38,59.13 386.10,58.93 386.82,58.79 387.55,58.68 388.27,58.61 388.99,58.54 389.72,58.48 390.44,58.42 391.16,58.38 391.88,58.34 392.61,58.33 393.33,58.33 394.05,58.36 394.78,58.42 395.50,58.50" fill="none" stroke="#d95319" stroke-width="1.8" stroke-linejoin="round" clip-path="url(#clipR)"/>
<polyline points="42.50,189.15 43.22,188.27 43.94,187.06 44.67,185.53 45.39,183.67 46.11,181.57 46.83,179.25 47.56,176.65 48.28,173.71 49.00,170.36 49.72,166.66 50.45,162.78 51.17,158.74 51.89,154.55 52.61,150.23 53.33,145.76 54.06,141.08 54.78,136.33 55.50,131.60 56.22,127.04 56.95,122.72 57.67,118.69 58.39,115.04 59.11,111.84 59.84,109.15 60.56,106.89 61.28,104.99 62.00,103.40 62.72,102.05 63.45,100.89 64.17,99.85 64.89,98.89 65.61,98.03 66.34,97.30 67.06,96.75 67.78,96.40 68.50,96.28 69.23,96.36 69.95,96.61 70.67,97.00 71.39,97.49 72.12,98.00 72.84,98.58 73.56,99.33 74.28,100.36 75.00,101.76 75.73,103.64 76.45,106.00 77.17,108.53 77.89,111.18 78.62,113.93 79.34,116.76 80.06,119.65 80.78,122.57 81.51,125.52 82.23,128.52 82.95,131.52 83.67,134.52 84.39,137.48 85.12,140.36 85.84,143.08 86.56,145.67 87.28,148.11 88.01,150.40 88.73,152.13 89.45,153.30 90.17,154.03 90.90,154.47 91.62,154.71 92.34,154.63 93.06,154.06 93.78,152.83 94.51,151.18 95.23,149.45 95.95,147.68 96.67,145.90 97.40,144.16 98.12,142.49 98.84,140.85 99.56,139.20 100.29,137.59 101.01,136.04 101.73,134.60 102.45,133.29 103.17,132.22 103.90,131.37 104.62,130.72 105.34,130.23 106.06,129.87 106.79,129.61 107.51,129.42 108.23,129.26 108.95,129.10 109.68,128.96 110.40,128.84 111.12,128.76 111.84,128.72 112.57,128.73 113.29,128.80 114.01,128.94 114.73,129.15" fill="none" stroke="#d95319" stroke-width="1.8" stroke-linejoin="round" clip-path="url(#clipL)"/>
<polyline points="323.20,57.60 323.93,57.29 324.65,56.85 325.38,56.26 326.10,55.50 326.83,54.61 327.55,53.63 328.28,52.56 329.01,51.40 329.73,50.13 330.46,48.73 331.18,47.24 331.91,45.70 332.63,44.19 333.36,42.76 334.08,41.44 334.81,40.18 335.54,38.99 336.26,37.87 336.99,36.82 337.71,35.86 338.44,35.02 339.16,34.30 339.89,33.71 340.62,33.24 341.34,32.82 342.07,32.44 342.79,32.11 343.52,31.81 344.24,31.55 344.97,31.33 345.69,31.15 346.42,30.99 347.15,30.84 347.87,30.73 348.60,30.65 349.32,30.60 350.05,30.60 350.77,30.65 351.50,30.75 352.23,30.90 352.95,31.09 353.68,31.32 354.40,31.59 355.13,31.92 355.85,32.29 356.58,32.71 357.31,33.18 358.03,33.70 358.76,34.32 359.48,35.02 360.21,35.78 360.93,36.55 361.66,37.29 362.38,37.96 363.11,38.54 363.84,39.07 364.56,39.58 365.29,40.04 366.01,40.47 366.74,40.85 367.46,41.17 368.19,41.44 368.92,41.66 369.64,41.84 370.37,41.99 371.09,42.09 371.82,42.16 372.54,42.20 373.27,42.20 373.99,42.16 374.72,42.06 375.45,41.91 376.17,41.71 376.90,41.47 377.62,41.18 378.35,40.86 379.07,40.50 379.80,40.10" fill="none" stroke="#d95319" stroke-width="1.8" stroke-linejoin="round" clip-path="url(#clipR)"/>
<polyline points="42.50,189.14 43.22,188.37 43.95,187.27 44.67,185.79 45.40,183.89 46.12,181.66 46.85,179.22 47.57,176.55 48.30,173.64 49.02,170.46 49.75,166.98 50.47,163.24 51.20,159.40 51.92,155.62 52.65,152.05 53.37,148.75 54.10,145.60 54.82,142.62 55.55,139.81 56.27,137.19 57.00,134.80 57.72,132.70 58.45,130.90 59.17,129.42 59.90,128.25 60.62,127.20 61.35,126.25 62.07,125.41 62.80,124.66 63.52,124.02 64.25,123.48 64.97,123.02 65.70,122.61 66.42,122.26 67.15,121.97 67.87,121.77 68.60,121.65 69.32,121.65 70.05,121.78 70.77,122.03 71.50,122.39 72.22,122.86 72.95,123.43 73.67,124.12 74.40,124.93 75.12,125.86 75.85,126.91 76.57,128.09 77.30,129.39 78.02,130.93 78.75,132.70 79.47,134.59 80.20,136.51 80.92,138.36 81.65,140.04 82.37,141.49 83.10,142.83 83.82,144.09 84.55,145.25 85.27,146.31 86.00,147.26 86.72,148.07 87.45,148.74 88.17,149.30 88.90,149.75 89.62,150.11 90.35,150.37 91.07,150.55 91.80,150.63 92.52,150.64 93.25,150.53 93.97,150.30 94.70,149.93 95.42,149.42 96.15,148.81 96.87,148.10 97.60,147.29 98.32,146.39 99.05,145.39" fill="none" stroke="#d95319" stroke-width="1.8" stroke-linejoin="round" clip-path="url(#clipL)"/>
<polyline points="379.80,40.10 380.52,39.65 381.23,39.19 381.95,38.72 382.67,38.25 383.38,37.78 384.10,37.30 384.82,36.80 385.53,36.30 386.25,35.78 386.97,35.27 387.68,34.76 388.40,34.27 389.11,33.78 389.83,33.32 390.55,32.88 391.26,32.46 391.98,32.07 392.70,31.68 393.41,31.29 394.13,30.91 394.85,30.53 395.56,30.16 396.28,29.79 397.00,29.43 397.71,29.07 398.43,28.72 399.15,28.39 399.86,28.07 400.58,27.78 401.30,27.52 402.01,27.27 402.73,27.04 403.44,26.83 404.16,26.63 404.88,26.45 405.59,26.28 406.31,26.12 407.03,25.98 407.74,25.85 408.46,25.73 409.18,25.63 409.89,25.54 410.61,25.46 411.33,25.40 412.04,25.35 412.76,25.31 413.48,25.30 414.19,25.30 414.91,25.31 415.63,25.33 416.34,25.36 417.06,25.40 417.78,25.45 418.49,25.51 419.21,25.59 419.92,25.69 420.64,25.80 421.36,25.91 422.07,26.02 422.79,26.13 423.51,26.25 424.22,26.36 424.94,26.48 425.66,26.60 426.37,26.72 427.09,26.84 427.81,26.97 428.52,27.09 429.24,27.22 429.96,27.36 430.67,27.50 431.39,27.64 432.11,27.78 432.82,27.93 433.54,28.07 434.26,28.21 434.97,28.35 435.69,28.49 436.40,28.62 437.12,28.75 437.84,28.87 438.55,28.99 439.27,29.10 439.99,29.20 440.70,29.29 441.42,29.38 442.14,29.48 442.85,29.57 443.57,29.65 444.29,29.74 445.00,29.82 445.72,29.91 446.44,29.99 447.15,30.07 447.87,30.15 448.59,30.23 449.30,30.31 450.02,30.39 450.73,30.47 451.45,30.55 452.17,30.62 452.88,30.70 453.60,30.77 454.32,30.85 455.03,30.92 455.75,31.00 456.47,31.07 457.18,31.15 457.90,31.22 458.62,31.30 459.33,31.37 460.05,31.45 460.77,31.52 461.48,31.60 462.20,31.67 462.92,31.75 463.63,31.83 464.35,31.91 465.07,31.99 465.78,32.06 466.50,32.14 467.21,32.22 467.93,32.30 468.65,32.37 469.36,32.45 470.08,32.53 470.80,32.60 471.51,32.68 472.23,32.75 472.95,32.82 473.66,32.90 474.38,32.97 475.10,33.04 475.81,33.10 476.53,33.17 477.25,33.23 477.96,33.30 478.68,33.36 479.40,33.42 480.11,33.47 480.83,33.53 481.54,33.58 482.26,33.63 482.98,33.68 483.69,33.72 484.41,33.77 485.13,33.81 485.84,33.85 486.56,33.89 487.28,33.93 487.99,33.97 488.71,34.00 489.43,34.04 490.14,34.07 490.86,34.11 491.58,34.14 492.29,34.17 493.01,34.20 493.73,34.24 494.44,34.27 495.16,34.30 495.88,34.33 496.59,34.36 497.31,34.39 498.02,34.42 498.74,34.45 499.46,34.48 500.17,34.51 500.89,34.54 501.61,34.57 502.32,34.60 503.04,34.63 503.76,34.66 504.47,34.69 505.19,34.72 505.91,34.75 506.62,34.78 507.34,34.81 508.06,34.84 508.77,34.87 509.49,34.90 510.21,34.93 510.92,34.96 511.64,34.99 512.36,35.02 513.07,35.05 513.79,35.08 514.50,35.11 515.22,35.14 515.94,35.17 516.65,35.20 517.37,35.23 518.09,35.26 518.80,35.28 519.52,35.31 520.24,35.34 520.95,35.37 521.67,35.40 522.39,35.42 523.10,35.45 523.82,35.48 524.54,35.51 525.25,35.53 525.97,35.56 526.69,35.58 527.40,35.61 528.12,35.64 528.83,35.66 529.55,35.69 530.27,35.71 530.98,35.74 531.70,35.76 532.42,35.78 533.13,35.81 533.85,35.83 534.57,35.85 535.28,35.88 536.00,35.90" fill="none" stroke="#d95319" stroke-width="1.1" stroke-linejoin="round" stroke-dasharray="6.3 4.5" stroke-dashoffset="6.3" clip-path="url(#clipR)"/>
<polyline points="99.05,145.39 99.76,144.26 100.48,143.11 101.19,141.94 101.91,140.77 102.63,139.59 103.34,138.39 104.06,137.15 104.77,135.88 105.49,134.61 106.21,133.32 106.92,132.05 107.64,130.81 108.35,129.60 109.07,128.44 109.78,127.34 110.50,126.30 111.22,125.31 111.93,124.34 112.65,123.37 113.36,122.41 114.08,121.47 114.80,120.53 115.51,119.61 116.23,118.71 116.94,117.82 117.66,116.95 118.37,116.11 119.09,115.32 119.81,114.60 120.52,113.93 121.24,113.32 121.95,112.75 122.67,112.22 123.39,111.72 124.10,111.26 124.82,110.83 125.53,110.44 126.25,110.08 126.96,109.76 127.68,109.47 128.40,109.22 129.11,108.99 129.83,108.80 130.54,108.64 131.26,108.51 131.98,108.43 132.69,108.38 133.41,108.39 134.12,108.43 134.84,108.48 135.55,108.55 136.27,108.65 136.99,108.77 137.70,108.93 138.42,109.13 139.13,109.37 139.85,109.64 140.57,109.91 141.28,110.19 142.00,110.47 142.71,110.76 143.43,111.05 144.14,111.34 144.86,111.64 145.58,111.94 146.29,112.25 147.01,112.56 147.72,112.87 148.44,113.20 149.16,113.54 149.87,113.89 150.59,114.24 151.30,114.60 152.02,114.96 152.73,115.32 153.45,115.68 154.17,116.03 154.88,116.37 155.60,116.70 156.31,117.02 157.03,117.33 157.75,117.62 158.46,117.89 159.18,118.14 159.89,118.37 160.61,118.61 161.33,118.83 162.04,119.06 162.76,119.28 163.47,119.49 164.19,119.71 164.90,119.92 165.62,120.12 166.34,120.33 167.05,120.53 167.77,120.73 168.48,120.93 169.20,121.12 169.92,121.31 170.63,121.51 171.35,121.70 172.06,121.89 172.78,122.08 173.49,122.26 174.21,122.45 174.93,122.64 175.64,122.82 176.36,123.01 177.07,123.20 177.79,123.38 178.51,123.57 179.22,123.76 179.94,123.95 180.65,124.14 181.37,124.33 182.08,124.52 182.80,124.72 183.52,124.91 184.23,125.11 184.95,125.30 185.66,125.50 186.38,125.69 187.10,125.89 187.81,126.08 188.53,126.27 189.24,126.46 189.96,126.65 190.67,126.84 191.39,127.02 192.11,127.21 192.82,127.38 193.54,127.56 194.25,127.73 194.97,127.90 195.69,128.07 196.40,128.23 197.12,128.39 197.83,128.54 198.55,128.68 199.26,128.82 199.98,128.96 200.70,129.09 201.41,129.21 202.13,129.33 202.84,129.45 203.56,129.56 204.28,129.67 204.99,129.77 205.71,129.87 206.42,129.97 207.14,130.06 207.85,130.15 208.57,130.24 209.29,130.33 210.00,130.41 210.72,130.50 211.43,130.58 212.15,130.65 212.87,130.73 213.58,130.81 214.30,130.89 215.01,130.96 215.73,131.04 216.44,131.11 217.16,131.18 217.88,131.26 218.59,131.34 219.31,131.41 220.02,131.49 220.74,131.56 221.46,131.64 222.17,131.72 222.89,131.79 223.60,131.87 224.32,131.95 225.03,132.02 225.75,132.10 226.47,132.17 227.18,132.25 227.90,132.33 228.61,132.40 229.33,132.48 230.05,132.55 230.76,132.63 231.48,132.70 232.19,132.77 232.91,132.85 233.62,132.92 234.34,132.99 235.06,133.07 235.77,133.14 236.49,133.21 237.20,133.28 237.92,133.35 238.64,133.42 239.35,133.50 240.07,133.57 240.78,133.63 241.50,133.70 242.22,133.77 242.93,133.84 243.65,133.91 244.36,133.97 245.08,134.04 245.79,134.10 246.51,134.17 247.23,134.23 247.94,134.30 248.66,134.36 249.37,134.42 250.09,134.48 250.81,134.54 251.52,134.60 252.24,134.66 252.95,134.72 253.67,134.78 254.38,134.84 255.10,134.89" fill="none" stroke="#d95319" stroke-width="1.1" stroke-linejoin="round" stroke-dasharray="6.3 4.5" stroke-dashoffset="6.3" clip-path="url(#clipL)"/>
<polyline points="395.50,58.50 396.22,58.56 396.93,58.58 397.65,58.56 398.37,58.49 399.08,58.38 399.80,58.22 400.52,57.99 401.23,57.74 401.95,57.46 402.67,57.16 403.39,56.82 404.10,56.45 404.82,56.02 405.54,55.54 406.25,55.01 406.97,54.45 407.69,53.90 408.40,53.34 409.12,52.78 409.84,52.23 410.55,51.67 411.27,51.11 411.99,50.55 412.70,49.99 413.42,49.43 414.14,48.86 414.85,48.30 415.57,47.71 416.29,47.10 417.01,46.48 417.72,45.87 418.44,45.29 419.16,44.72 419.87,44.15 420.59,43.60 421.31,43.05 422.02,42.53 422.74,42.02 423.46,41.53 424.17,41.04 424.89,40.56 425.61,40.07 426.32,39.59 427.04,39.11 427.76,38.62 428.47,38.14 429.19,37.66 429.91,37.18 430.62,36.69 431.34,36.21 432.06,35.73 432.78,35.24 433.49,34.70 434.21,34.14 434.93,33.60 435.64,33.11 436.36,32.69 437.08,32.34 437.79,32.03 438.51,31.77 439.23,31.53 439.94,31.32 440.66,31.11 441.38,30.91 442.09,30.71 442.81,30.52 443.53,30.34 444.24,30.17 444.96,30.01 445.68,29.86 446.40,29.73 447.11,29.60 447.83,29.48 448.55,29.36 449.26,29.25 449.98,29.15 450.70,29.05 451.41,28.96 452.13,28.89 452.85,28.82 453.56,28.75 454.28,28.70 455.00,28.65 455.71,28.61 456.43,28.58 457.15,28.56 457.86,28.55 458.58,28.55 459.30,28.55 460.02,28.55 460.73,28.56 461.45,28.58 462.17,28.60 462.88,28.64 463.60,28.68 464.32,28.73 465.03,28.80 465.75,28.88 466.47,28.96 467.18,29.03 467.90,29.11 468.62,29.19 469.33,29.27 470.05,29.34 470.77,29.42 471.48,29.50 472.20,29.57 472.92,29.65 473.64,29.72 474.35,29.80 475.07,29.87 475.79,29.95 476.50,30.02 477.22,30.10 477.94,30.17 478.65,30.24 479.37,30.32 480.09,30.39 480.80,30.47 481.52,30.54 482.24,30.61 482.95,30.69 483.67,30.76 484.39,30.84 485.10,30.91 485.82,30.98 486.54,31.06 487.26,31.13 487.97,31.21 488.69,31.28 489.41,31.36 490.12,31.43 490.84,31.50 491.56,31.58 492.27,31.65 492.99,31.73 493.71,31.80 494.42,31.88 495.14,31.96 495.86,32.03 496.57,32.11 497.29,32.19 498.01,32.26 498.72,32.34 499.44,32.42 500.16,32.49 500.87,32.57 501.59,32.65 502.31,32.72 503.03,32.80 503.74,32.87 504.46,32.95 505.18,33.02 505.89,33.10 506.61,33.17 507.33,33.24 508.04,33.31 508.76,33.38 509.48,33.44 510.19,33.50 510.91,33.56 511.63,33.62 512.34,33.68 513.06,33.73 513.78,33.78 514.49,33.84 515.21,33.88 515.93,33.93 516.65,33.98 517.36,34.02 518.08,34.06 518.80,34.10 519.51,34.14 520.23,34.18 520.95,34.22 521.66,34.26 522.38,34.29 523.10,34.32 523.81,34.36 524.53,34.39 525.25,34.42 525.96,34.45 526.68,34.48 527.40,34.51 528.11,34.53 528.83,34.56 529.55,34.59 530.27,34.61 530.98,34.64 531.70,34.66 532.42,34.68 533.13,34.71 533.85,34.73 534.57,34.75 535.28,34.78 536.00,34.80" fill="none" stroke="#d95319" stroke-width="1.1" stroke-linejoin="round" stroke-dasharray="6.3 4.5" stroke-dashoffset="6.3" clip-path="url(#clipR)"/>
<polyline points="114.73,129.15 115.45,129.29 116.16,129.35 116.88,129.30 117.60,129.14 118.31,128.85 119.03,128.44 119.75,127.88 120.46,127.24 121.18,126.55 121.89,125.80 122.61,124.96 123.33,124.02 124.04,122.96 124.76,121.76 125.47,120.41 126.19,119.03 126.91,117.65 127.62,116.26 128.34,114.86 129.06,113.46 129.77,112.06 130.49,110.67 131.20,109.27 131.92,107.87 132.64,106.46 133.35,105.06 134.07,103.64 134.78,102.17 135.50,100.64 136.22,99.10 136.93,97.59 137.65,96.12 138.37,94.69 139.08,93.28 139.80,91.89 140.51,90.53 141.23,89.22 141.95,87.94 142.66,86.71 143.38,85.50 144.09,84.29 144.81,83.08 145.53,81.87 146.24,80.66 146.96,79.46 147.68,78.25 148.39,77.04 149.11,75.84 149.82,74.64 150.54,73.43 151.26,72.22 151.97,70.99 152.69,69.65 153.40,68.25 154.12,66.89 154.84,65.67 155.55,64.63 156.27,63.74 156.99,62.98 157.70,62.32 158.42,61.73 159.13,61.19 159.85,60.67 160.57,60.17 161.28,59.67 162.00,59.20 162.72,58.74 163.43,58.32 164.15,57.92 164.86,57.55 165.58,57.22 166.30,56.90 167.01,56.59 167.73,56.30 168.44,56.02 169.16,55.76 169.88,55.53 170.59,55.31 171.31,55.12 172.03,54.94 172.74,54.79 173.46,54.65 174.17,54.53 174.89,54.43 175.61,54.36 176.32,54.30 177.04,54.28 177.75,54.27 178.47,54.27 179.19,54.28 179.90,54.30 180.62,54.34 181.34,54.40 182.05,54.49 182.77,54.60 183.48,54.74 184.20,54.91 184.92,55.10 185.63,55.29 186.35,55.48 187.06,55.67 187.78,55.87 188.50,56.06 189.21,56.26 189.93,56.45 190.65,56.64 191.36,56.84 192.08,57.02 192.79,57.21 193.51,57.40 194.23,57.58 194.94,57.77 195.66,57.95 196.37,58.14 197.09,58.32 197.81,58.51 198.52,58.69 199.24,58.88 199.96,59.06 200.67,59.25 201.39,59.44 202.10,59.62 202.82,59.81 203.54,59.99 204.25,60.18 204.97,60.36 205.68,60.55 206.40,60.73 207.12,60.92 207.83,61.10 208.55,61.29 209.27,61.47 209.98,61.66 210.70,61.85 211.41,62.03 212.13,62.22 212.85,62.41 213.56,62.60 214.28,62.79 215.00,62.98 215.71,63.17 216.43,63.37 217.14,63.56 217.86,63.75 218.58,63.94 219.29,64.13 220.01,64.33 220.72,64.52 221.44,64.71 222.16,64.90 222.87,65.09 223.59,65.27 224.31,65.46 225.02,65.65 225.74,65.83 226.45,66.01 227.17,66.18 227.89,66.34 228.60,66.51 229.32,66.66 230.03,66.81 230.75,66.96 231.47,67.10 232.18,67.23 232.90,67.36 233.62,67.49 234.33,67.61 235.05,67.73 235.76,67.84 236.48,67.95 237.20,68.06 237.91,68.16 238.63,68.26 239.34,68.36 240.06,68.45 240.78,68.54 241.49,68.63 242.21,68.71 242.93,68.79 243.64,68.87 244.36,68.95 245.07,69.02 245.79,69.09 246.51,69.16 247.22,69.23 247.94,69.30 248.65,69.36 249.37,69.43 250.09,69.49 250.80,69.55 251.52,69.61 252.24,69.67 252.95,69.73 253.67,69.79 254.38,69.84 255.10,69.90" fill="none" stroke="#d95319" stroke-width="1.1" stroke-linejoin="round" stroke-dasharray="6.3 4.5" stroke-dashoffset="6.3" clip-path="url(#clipL)"/>
<polyline points="427.90,63.30 428.62,62.75 429.33,62.20 430.05,61.64 430.76,61.07 431.48,60.50 432.20,59.91 432.91,59.31 433.63,58.70 434.34,58.08 435.06,57.46 435.77,56.86 436.49,56.28 437.21,55.72 437.92,55.18 438.64,54.66 439.35,54.14 440.07,53.62 440.79,53.11 441.50,52.60 442.22,52.09 442.93,51.59 443.65,51.08 444.37,50.58 445.08,50.08 445.80,49.57 446.51,49.06 447.23,48.55 447.95,48.03 448.66,47.48 449.38,46.93 450.09,46.38 450.81,45.84 451.52,45.33 452.24,44.84 452.96,44.36 453.67,43.89 454.39,43.43 455.10,42.96 455.82,42.48 456.54,41.97 457.25,41.45 457.97,40.91 458.68,40.35 459.40,39.80 460.12,39.26 460.83,38.73 461.55,38.21 462.26,37.70 462.98,37.20 463.69,36.71 464.41,36.25 465.13,35.82 465.84,35.42 466.56,35.06 467.27,34.73 467.99,34.42 468.71,34.14 469.42,33.87 470.14,33.63 470.85,33.39 471.57,33.17 472.29,32.95 473.00,32.72 473.72,32.50 474.43,32.27 475.15,32.05 475.86,31.82 476.58,31.60 477.30,31.38 478.01,31.17 478.73,30.96 479.44,30.77 480.16,30.58 480.88,30.40 481.59,30.24 482.31,30.09 483.02,29.96 483.74,29.85 484.46,29.75 485.17,29.66 485.89,29.58 486.60,29.51 487.32,29.44 488.04,29.39 488.75,29.35 489.47,29.31 490.18,29.28 490.90,29.25 491.61,29.23 492.33,29.22 493.05,29.20 493.76,29.20 494.48,29.18 495.19,29.17 495.91,29.16 496.63,29.16 497.34,29.15 498.06,29.16 498.77,29.18 499.49,29.20 500.21,29.25 500.92,29.30 501.64,29.37 502.35,29.44 503.07,29.50 503.78,29.57 504.50,29.65 505.22,29.72 505.93,29.79 506.65,29.86 507.36,29.94 508.08,30.01 508.80,30.09 509.51,30.16 510.23,30.23 510.94,30.31 511.66,30.38 512.38,30.45 513.09,30.52 513.81,30.59 514.52,30.66 515.24,30.73 515.95,30.80 516.67,30.86 517.39,30.93 518.10,30.99 518.82,31.06 519.53,31.12 520.25,31.19 520.97,31.25 521.68,31.32 522.40,31.39 523.11,31.45 523.83,31.52 524.55,31.58 525.26,31.65 525.98,31.71 526.69,31.78 527.41,31.84 528.13,31.91 528.84,31.97 529.56,32.04 530.27,32.10 530.99,32.16 531.70,32.23 532.42,32.29 533.14,32.35 533.85,32.41 534.57,32.48 535.28,32.54 536.00,32.60" fill="none" stroke="#d95319" stroke-width="1.1" stroke-linejoin="round" stroke-dasharray="6.3 4.5" stroke-dashoffset="6.3" clip-path="url(#clipR)"/>
<polyline points="147.10,114.34 147.82,112.98 148.53,111.59 149.25,110.18 149.96,108.76 150.68,107.33 151.39,105.88 152.11,104.37 152.82,102.84 153.54,101.29 154.25,99.75 154.97,98.24 155.68,96.78 156.40,95.39 157.11,94.05 157.83,92.73 158.55,91.43 159.26,90.15 159.98,88.87 160.69,87.59 161.41,86.33 162.12,85.06 162.84,83.80 163.55,82.54 164.27,81.28 164.98,80.02 165.70,78.75 166.41,77.47 167.13,76.16 167.84,74.80 168.56,73.41 169.27,72.04 169.99,70.69 170.70,69.41 171.42,68.18 172.13,66.99 172.85,65.83 173.56,64.66 174.28,63.49 175.00,62.28 175.71,61.03 176.43,59.72 177.14,58.36 177.86,56.98 178.57,55.60 179.29,54.25 180.00,52.93 180.72,51.62 181.43,50.33 182.15,49.08 182.86,47.88 183.58,46.73 184.29,45.65 185.01,44.65 185.72,43.74 186.44,42.91 187.15,42.14 187.87,41.44 188.58,40.78 189.30,40.16 190.02,39.58 190.73,39.01 191.45,38.46 192.16,37.90 192.88,37.34 193.59,36.78 194.31,36.21 195.02,35.65 195.74,35.09 196.45,34.55 197.17,34.01 197.88,33.50 198.60,33.01 199.31,32.54 200.03,32.10 200.74,31.69 201.46,31.33 202.17,31.00 202.89,30.71 203.60,30.46 204.32,30.23 205.03,30.03 205.75,29.86 206.47,29.70 207.18,29.57 207.90,29.46 208.61,29.36 209.33,29.29 210.04,29.22 210.76,29.17 211.47,29.13 212.19,29.10 212.90,29.08 213.62,29.05 214.33,29.02 215.05,29.00 215.76,28.98 216.48,28.98 217.19,28.99 217.91,29.03 218.62,29.10 219.34,29.21 220.05,29.35 220.77,29.51 221.48,29.68 222.20,29.85 222.92,30.03 223.63,30.21 224.35,30.39 225.06,30.57 225.78,30.75 226.49,30.94 227.21,31.12 227.92,31.31 228.64,31.49 229.35,31.68 230.07,31.86 230.78,32.04 231.50,32.22 232.21,32.40 232.93,32.58 233.64,32.75 234.36,32.92 235.07,33.08 235.79,33.25 236.50,33.41 237.22,33.57 237.93,33.74 238.65,33.90 239.37,34.06 240.08,34.23 240.80,34.39 241.51,34.56 242.23,34.72 242.94,34.88 243.66,35.05 244.37,35.21 245.09,35.37 245.80,35.54 246.52,35.70 247.23,35.86 247.95,36.02 248.66,36.18 249.38,36.34 250.09,36.50 250.81,36.66 251.52,36.82 252.24,36.97 252.95,37.13 253.67,37.29 254.38,37.44 255.10,37.59" fill="none" stroke="#d95319" stroke-width="1.1" stroke-linejoin="round" stroke-dasharray="6.3 4.5" stroke-dashoffset="6.3" clip-path="url(#clipL)"/>
<circle cx="42.50" cy="189.50" r="2.3" fill="none" stroke="#929292" stroke-width="0.95"/>
<circle cx="48.88" cy="174.50" r="2.3" fill="none" stroke="#929292" stroke-width="0.95"/>
<circle cx="55.27" cy="139.50" r="2.3" fill="none" stroke="#929292" stroke-width="0.95"/>
<circle cx="61.65" cy="104.50" r="2.3" fill="none" stroke="#929292" stroke-width="0.95"/>
<circle cx="68.04" cy="80.75" r="2.3" fill="none" stroke="#929292" stroke-width="0.95"/>
<circle cx="74.42" cy="72.60" r="2.3" fill="none" stroke="#929292" stroke-width="0.95"/>
<circle cx="80.80" cy="76.50" r="2.3" fill="none" stroke="#929292" stroke-width="0.95"/>
<circle cx="87.19" cy="93.70" r="2.3" fill="none" stroke="#929292" stroke-width="0.95"/>
<circle cx="93.57" cy="106.80" r="2.3" fill="none" stroke="#929292" stroke-width="0.95"/>
<circle cx="99.96" cy="110.30" r="2.3" fill="none" stroke="#929292" stroke-width="0.95"/>
<circle cx="106.34" cy="112.20" r="2.3" fill="none" stroke="#929292" stroke-width="0.95"/>
<circle cx="112.72" cy="114.90" r="2.3" fill="none" stroke="#929292" stroke-width="0.95"/>
<circle cx="119.11" cy="117.40" r="2.3" fill="none" stroke="#929292" stroke-width="0.95"/>
<circle cx="125.49" cy="119.20" r="2.3" fill="none" stroke="#929292" stroke-width="0.95"/>
<circle cx="131.88" cy="122.60" r="2.3" fill="none" stroke="#929292" stroke-width="0.95"/>
<circle cx="138.26" cy="124.50" r="2.3" fill="none" stroke="#929292" stroke-width="0.95"/>
<circle cx="144.64" cy="126.40" r="2.3" fill="none" stroke="#929292" stroke-width="0.95"/>
<circle cx="151.03" cy="129.10" r="2.3" fill="none" stroke="#929292" stroke-width="0.95"/>
<circle cx="157.41" cy="131.90" r="2.3" fill="none" stroke="#929292" stroke-width="0.95"/>
<circle cx="163.80" cy="134.50" r="2.3" fill="none" stroke="#929292" stroke-width="0.95"/>
<circle cx="170.18" cy="136.60" r="2.3" fill="none" stroke="#929292" stroke-width="0.95"/>
<circle cx="176.56" cy="138.70" r="2.3" fill="none" stroke="#929292" stroke-width="0.95"/>
<circle cx="182.95" cy="141.10" r="2.3" fill="none" stroke="#929292" stroke-width="0.95"/>
<circle cx="189.33" cy="143.20" r="2.3" fill="none" stroke="#929292" stroke-width="0.95"/>
<circle cx="195.72" cy="145.40" r="2.3" fill="none" stroke="#929292" stroke-width="0.95"/>
<circle cx="202.10" cy="148.10" r="2.3" fill="none" stroke="#929292" stroke-width="0.95"/>
<circle cx="208.48" cy="150.50" r="2.3" fill="none" stroke="#929292" stroke-width="0.95"/>
<circle cx="214.87" cy="153.00" r="2.3" fill="none" stroke="#929292" stroke-width="0.95"/>
<circle cx="221.25" cy="155.50" r="2.3" fill="none" stroke="#929292" stroke-width="0.95"/>
<circle cx="227.64" cy="157.90" r="2.3" fill="none" stroke="#929292" stroke-width="0.95"/>
<circle cx="234.02" cy="160.30" r="2.3" fill="none" stroke="#929292" stroke-width="0.95"/>
<circle cx="240.40" cy="162.50" r="2.3" fill="none" stroke="#929292" stroke-width="0.95"/>
<circle cx="246.79" cy="164.50" r="2.3" fill="none" stroke="#929292" stroke-width="0.95"/>
<circle cx="253.17" cy="166.70" r="2.3" fill="none" stroke="#929292" stroke-width="0.95"/>
<path d="M85.06,189.50v-2.1M85.06,11.40v2.1M127.62,189.50v-2.1M127.62,11.40v2.1M170.18,189.50v-2.1M170.18,11.40v2.1M212.74,189.50v-2.1M212.74,11.40v2.1M42.50,189.50h2.1M255.30,189.50h-2.1M42.50,162.69h1.4M255.30,162.69h-1.4M42.50,147.01h1.4M255.30,147.01h-1.4M42.50,135.89h1.4M255.30,135.89h-1.4M42.50,127.26h1.4M255.30,127.26h-1.4M42.50,120.21h1.4M255.30,120.21h-1.4M42.50,114.24h1.4M255.30,114.24h-1.4M42.50,109.08h1.4M255.30,109.08h-1.4M42.50,104.52h1.4M255.30,104.52h-1.4M42.50,100.45h2.1M255.30,100.45h-2.1M42.50,73.64h1.4M255.30,73.64h-1.4M42.50,57.96h1.4M255.30,57.96h-1.4M42.50,46.84h1.4M255.30,46.84h-1.4M42.50,38.21h1.4M255.30,38.21h-1.4M42.50,31.16h1.4M255.30,31.16h-1.4M42.50,25.19h1.4M255.30,25.19h-1.4M42.50,20.03h1.4M255.30,20.03h-1.4M42.50,15.47h1.4M255.30,15.47h-1.4M42.50,11.40h2.1M255.30,11.40h-2.1" stroke="#262626" stroke-width="0.7" fill="none"/>
<rect x="42.50" y="11.40" width="212.80" height="178.10" stroke="#303030" stroke-width="1.0" fill="none"/>
<path d="M365.80,189.50v-2.1M365.80,11.40v2.1M408.40,189.50v-2.1M408.40,11.40v2.1M451.00,189.50v-2.1M451.00,11.40v2.1M493.60,189.50v-2.1M493.60,11.40v2.1M323.20,189.50h2.1M536.20,189.50h-2.1M323.20,178.78h1.4M536.20,178.78h-1.4M323.20,172.50h1.4M536.20,172.50h-1.4M323.20,168.05h1.4M536.20,168.05h-1.4M323.20,164.60h1.4M536.20,164.60h-1.4M323.20,161.78h1.4M536.20,161.78h-1.4M323.20,159.40h1.4M536.20,159.40h-1.4M323.20,157.33h1.4M536.20,157.33h-1.4M323.20,155.51h1.4M536.20,155.51h-1.4M323.20,153.88h2.1M536.20,153.88h-2.1M323.20,143.16h1.4M536.20,143.16h-1.4M323.20,136.88h1.4M536.20,136.88h-1.4M323.20,132.43h1.4M536.20,132.43h-1.4M323.20,128.98h1.4M536.20,128.98h-1.4M323.20,126.16h1.4M536.20,126.16h-1.4M323.20,123.78h1.4M536.20,123.78h-1.4M323.20,121.71h1.4M536.20,121.71h-1.4M323.20,119.89h1.4M536.20,119.89h-1.4M323.20,118.26h2.1M536.20,118.26h-2.1M323.20,107.54h1.4M536.20,107.54h-1.4M323.20,101.26h1.4M536.20,101.26h-1.4M323.20,96.81h1.4M536.20,96.81h-1.4M323.20,93.36h1.4M536.20,93.36h-1.4M323.20,90.54h1.4M536.20,90.54h-1.4M323.20,88.16h1.4M536.20,88.16h-1.4M323.20,86.09h1.4M536.20,86.09h-1.4M323.20,84.27h1.4M536.20,84.27h-1.4M323.20,82.64h2.1M536.20,82.64h-2.1M323.20,71.92h1.4M536.20,71.92h-1.4M323.20,65.64h1.4M536.20,65.64h-1.4M323.20,61.19h1.4M536.20,61.19h-1.4M323.20,57.74h1.4M536.20,57.74h-1.4M323.20,54.92h1.4M536.20,54.92h-1.4M323.20,52.54h1.4M536.20,52.54h-1.4M323.20,50.47h1.4M536.20,50.47h-1.4M323.20,48.65h1.4M536.20,48.65h-1.4M323.20,47.02h2.1M536.20,47.02h-2.1M323.20,36.30h1.4M536.20,36.30h-1.4M323.20,30.02h1.4M536.20,30.02h-1.4M323.20,25.57h1.4M536.20,25.57h-1.4M323.20,22.12h1.4M536.20,22.12h-1.4M323.20,19.30h1.4M536.20,19.30h-1.4M323.20,16.92h1.4M536.20,16.92h-1.4M323.20,14.85h1.4M536.20,14.85h-1.4M323.20,13.03h1.4M536.20,13.03h-1.4M323.20,11.40h2.1M536.20,11.40h-2.1" stroke="#262626" stroke-width="0.7" fill="none"/>
<rect x="323.20" y="11.40" width="213.00" height="178.10" stroke="#303030" stroke-width="1.0" fill="none"/>
<path d="M66.75,59.8V156" stroke="#3c3c3c" stroke-width="1.5"/>
<path d="M64.15,155.3L68.95,155.3L66.55,161.8Z" fill="#111"/>
<path d="M361.60,168.2V31" stroke="#3c3c3c" stroke-width="1.5"/>
<path d="M359.10,31.7L364.10,31.7L361.60,24.7Z" fill="#111"/>
<rect x="49.3" y="18.6" width="83.1" height="15" fill="#fff" stroke="#262626" stroke-width="0.9"/>
<circle cx="62.9" cy="26.3" r="2.3" fill="none" stroke="#929292" stroke-width="0.95"/>
<text x="75.9" y="29.5" font-family="Liberation Serif, serif" stroke="currentColor" stroke-width="0.15" font-size="10.35" fill="#000">Linear result</text>
<text x="42.80" y="203.6" font-family="Liberation Serif, serif" font-size="11.3" text-anchor="middle" fill="#262626">0</text>
<text x="85.36" y="203.6" font-family="Liberation Serif, serif" font-size="11.3" text-anchor="middle" fill="#262626">20</text>
<text x="127.92" y="203.6" font-family="Liberation Serif, serif" font-size="11.3" text-anchor="middle" fill="#262626">40</text>
<text x="170.48" y="203.6" font-family="Liberation Serif, serif" font-size="11.3" text-anchor="middle" fill="#262626">60</text>
<text x="213.04" y="203.6" font-family="Liberation Serif, serif" font-size="11.3" text-anchor="middle" fill="#262626">80</text>
<text x="255.60" y="203.6" font-family="Liberation Serif, serif" font-size="11.3" text-anchor="middle" fill="#262626">100</text>
<text x="38.00" y="195.10" font-family="Liberation Serif, serif" font-size="11.3" text-anchor="end" fill="#262626">10<tspan dy="-5" font-size="8.3">0</tspan></text>
<text x="38.00" y="106.05" font-family="Liberation Serif, serif" font-size="11.3" text-anchor="end" fill="#262626">10<tspan dy="-5" font-size="8.3">1</tspan></text>
<text x="38.00" y="17.00" font-family="Liberation Serif, serif" font-size="11.3" text-anchor="end" fill="#262626">10<tspan dy="-5" font-size="8.3">2</tspan></text>
<text x="323.50" y="203.6" font-family="Liberation Serif, serif" font-size="11.3" text-anchor="middle" fill="#262626">0</text>
<text x="366.10" y="203.6" font-family="Liberation Serif, serif" font-size="11.3" text-anchor="middle" fill="#262626">20</text>
<text x="408.70" y="203.6" font-family="Liberation Serif, serif" font-size="11.3" text-anchor="middle" fill="#262626">40</text>
<text x="451.30" y="203.6" font-family="Liberation Serif, serif" font-size="11.3" text-anchor="middle" fill="#262626">60</text>
<text x="493.90" y="203.6" font-family="Liberation Serif, serif" font-size="11.3" text-anchor="middle" fill="#262626">80</text>
<text x="536.50" y="203.6" font-family="Liberation Serif, serif" font-size="11.3" text-anchor="middle" fill="#262626">100</text>
<text x="318.70" y="195.10" font-family="Liberation Serif, serif" font-size="11.3" text-anchor="end" fill="#262626">10<tspan dy="-5" font-size="8.3">-6</tspan></text>
<text x="318.70" y="159.48" font-family="Liberation Serif, serif" font-size="11.3" text-anchor="end" fill="#262626">10<tspan dy="-5" font-size="8.3">-5</tspan></text>
<text x="318.70" y="123.86" font-family="Liberation Serif, serif" font-size="11.3" text-anchor="end" fill="#262626">10<tspan dy="-5" font-size="8.3">-4</tspan></text>
<text x="318.70" y="88.24" font-family="Liberation Serif, serif" font-size="11.3" text-anchor="end" fill="#262626">10<tspan dy="-5" font-size="8.3">-3</tspan></text>
<text x="318.70" y="52.62" font-family="Liberation Serif, serif" font-size="11.3" text-anchor="end" fill="#262626">10<tspan dy="-5" font-size="8.3">-2</tspan></text>
<text x="318.70" y="17.00" font-family="Liberation Serif, serif" font-size="11.3" text-anchor="end" fill="#262626">10<tspan dy="-5" font-size="8.3">-1</tspan></text>
<text x="72.00" y="166.00" font-family="Liberation Serif, serif" font-size="11.3" fill="#000">Increase</text>
<text x="114.10" y="166.00" font-family="Liberation Serif, serif" font-style="italic" font-size="11.6" fill="#000">E</text>
<text x="121.40" y="166.60" font-family="Liberation Serif, serif" font-size="7.6" fill="#000">0</text>
<text x="366.80" y="171.50" font-family="Liberation Serif, serif" font-size="11.3" fill="#000">Increase</text>
<text x="408.90" y="171.50" font-family="Liberation Serif, serif" font-style="italic" font-size="11.6" fill="#000">E</text>
<text x="416.20" y="172.10" font-family="Liberation Serif, serif" font-size="7.6" fill="#000">0</text>
<text x="79.6" y="71.8" font-family="Liberation Serif, serif" stroke="currentColor" stroke-width="0.15" font-size="10" fill="#000">1.0</text>
<text x="93.9" y="71.6" font-family="Liberation Serif, serif" font-size="12.5" fill="#000">×</text>
<text x="104.0" y="71.8" font-family="Liberation Serif, serif" stroke="currentColor" stroke-width="0.15" font-size="10.2" fill="#000">10</text>
<text x="114.0" y="69.1" font-family="Liberation Serif, serif" stroke="currentColor" stroke-width="0.15" font-size="8" fill="#000" letter-spacing="0.3">−6</text>
<text x="414.00" y="218.3" font-family="Liberation Serif, serif" stroke="currentColor" stroke-width="0.15" font-style="italic" font-size="13.5" fill="#000">t</text>
<text x="419.00" y="218.3" font-family="Liberation Serif, serif" stroke="currentColor" stroke-width="0.15" font-style="italic" font-size="13.5" fill="#000">ū</text>
<text x="425.80" y="220.6" font-family="Liberation Serif, serif" stroke="currentColor" stroke-width="0.15" font-style="italic" font-size="9.6" fill="#000">c</text>
<text x="431.80" y="221" font-family="Liberation Serif, serif" stroke="currentColor" stroke-width="0.15" font-size="16.5" fill="#000">/</text>
<text x="436.80" y="218.3" font-family="Liberation Serif, serif" stroke="currentColor" stroke-width="0.15" font-style="italic" font-size="13.6" fill="#000">h</text>
<text x="136.20" y="218.3" font-family="Liberation Serif, serif" stroke="currentColor" stroke-width="0.15" font-style="italic" font-size="13.5" fill="#000">t</text>
<text x="141.20" y="218.3" font-family="Liberation Serif, serif" stroke="currentColor" stroke-width="0.15" font-style="italic" font-size="13.5" fill="#000">ū</text>
<text x="148.00" y="220.6" font-family="Liberation Serif, serif" stroke="currentColor" stroke-width="0.15" font-style="italic" font-size="9.6" fill="#000">c</text>
<text x="154.00" y="221" font-family="Liberation Serif, serif" stroke="currentColor" stroke-width="0.15" font-size="16.5" fill="#000">/</text>
<text x="159.00" y="218.3" font-family="Liberation Serif, serif" stroke="currentColor" stroke-width="0.15" font-style="italic" font-size="13.6" fill="#000">h</text>
<text x="145.9" y="235.6" font-family="Liberation Serif, serif" stroke="currentColor" stroke-width="0.15" font-size="12" letter-spacing="0.75" fill="#000">(a)</text>
<text x="425.9" y="235.6" font-family="Liberation Serif, serif" stroke="currentColor" stroke-width="0.15" font-size="12" letter-spacing="0.75" fill="#000">(b)</text>
<g transform="translate(15.5,115.4) rotate(-90)"><text x="0.66" y="0" font-family="Liberation Serif, serif" font-style="italic" font-size="13" fill="#000">E</text><text x="10.9" y="2.0" font-family="Liberation Serif, serif" font-size="17" fill="#000">/</text><text x="17.56" y="0" font-family="Liberation Serif, serif" font-style="italic" font-size="13" fill="#000">E</text><text x="25.9" y="1.0" font-family="Liberation Serif, serif" font-size="8" fill="#000">0</text></g>
<text transform="translate(293.1,105.2) rotate(-90)" x="0.16" y="0" font-family="Liberation Serif, serif" stroke="currentColor" stroke-width="0.15" font-style="italic" font-size="13.5" fill="#000">E</text>
</svg>
</body></html>
